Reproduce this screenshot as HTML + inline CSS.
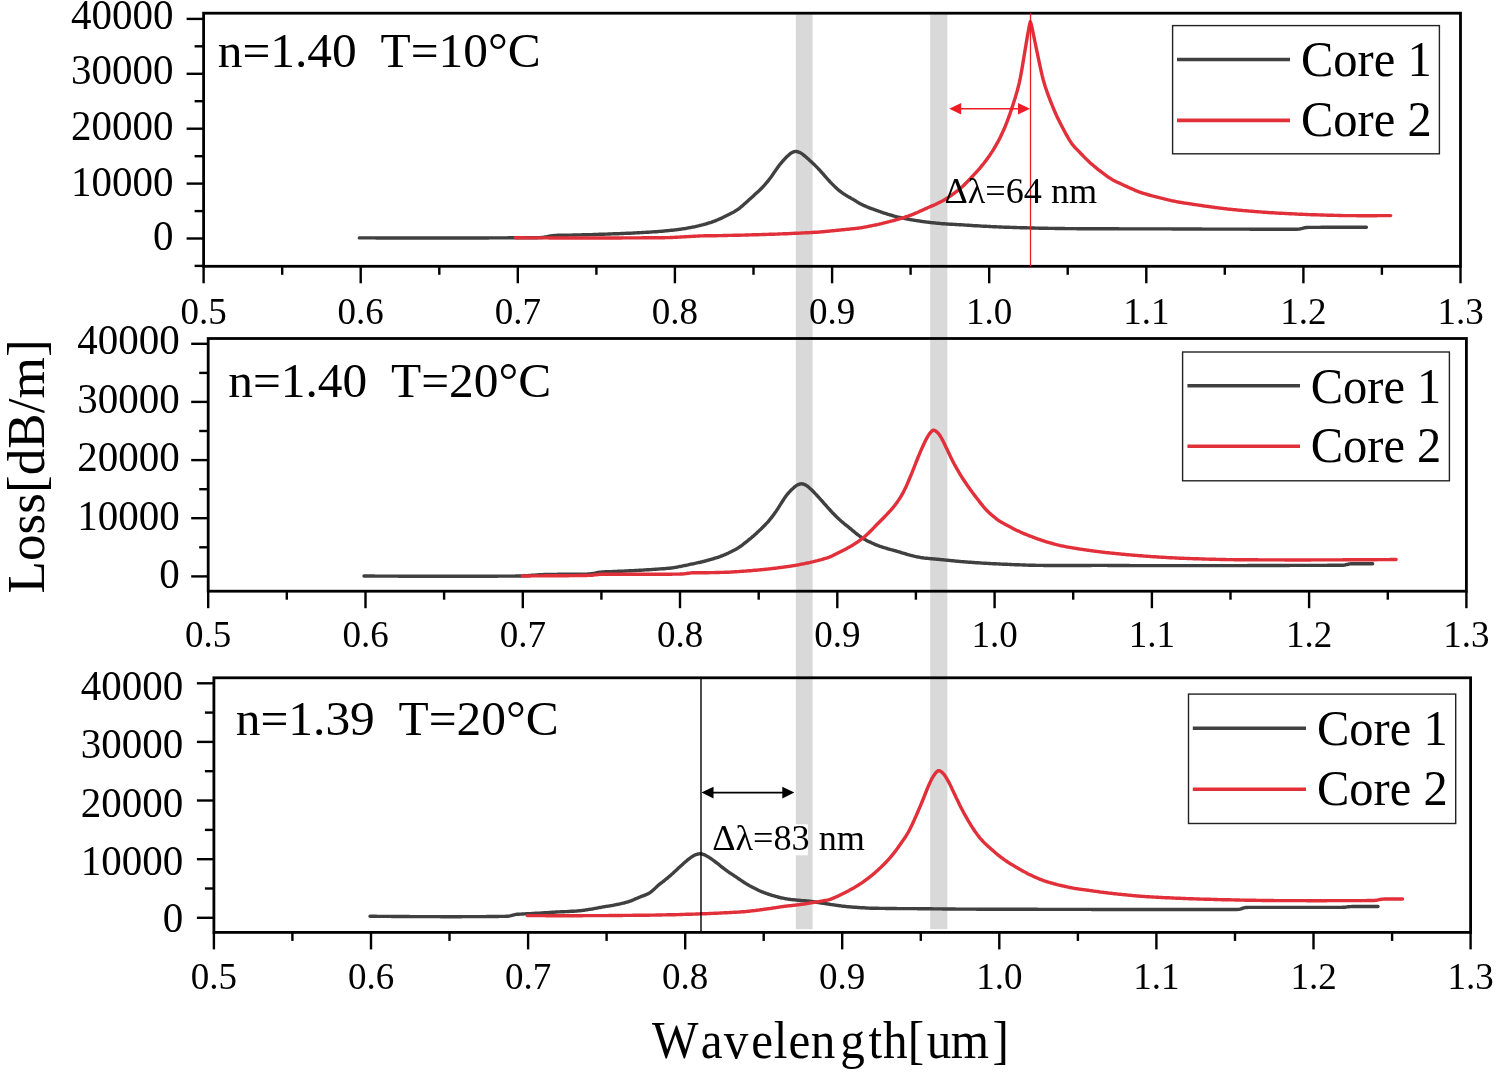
<!DOCTYPE html>
<html><head><meta charset="utf-8"><title>Loss vs Wavelength</title><style>html,body{margin:0;padding:0;background:#fff;overflow:hidden}svg{display:block}</style></head><body>
<svg width="1500" height="1073" viewBox="0 0 1500 1073" font-family='"Liberation Serif", "Times New Roman", serif'>
<rect x="0" y="0" width="1500" height="1073" fill="#fff"/>
<rect x="795.8" y="14.5" width="16.8" height="914.7" fill="#d9d9d9"/>
<rect x="930.2" y="14.5" width="17.2" height="914.7" fill="#d9d9d9"/>
<text x="217.7" y="67.3" font-size="49.4" xml:space="preserve" fill="#000">n=1.40  T=10°C</text>
<path d="M359.3,237.9 L360.3,237.9 L361.3,237.9 L362.3,237.9 L363.3,237.9 L364.3,237.9 L365.3,237.9 L366.3,237.9 L367.3,237.9 L368.3,237.9 L369.3,237.9 L370.3,237.9 L371.3,237.9 L372.3,237.9 L373.3,237.9 L374.3,237.9 L375.3,237.9 L376.3,238.0 L377.3,238.0 L378.3,238.0 L379.3,238.0 L380.3,238.0 L381.3,238.0 L382.3,238.0 L383.3,238.0 L384.3,238.0 L385.3,238.0 L386.3,238.0 L387.3,238.0 L388.3,238.0 L389.3,238.0 L390.3,238.0 L391.3,238.0 L392.3,238.0 L393.3,238.0 L394.3,238.0 L395.3,238.0 L396.3,238.0 L397.3,238.0 L398.3,238.0 L399.3,238.0 L400.3,238.0 L401.3,238.0 L402.3,238.0 L403.3,238.0 L404.3,238.0 L405.3,238.0 L406.3,238.0 L407.3,238.0 L408.3,238.0 L409.3,238.0 L410.3,238.0 L411.3,238.0 L412.3,238.0 L413.3,238.0 L414.3,238.0 L415.3,238.0 L416.3,238.0 L417.3,238.0 L418.3,238.0 L419.3,238.0 L420.3,238.0 L421.3,238.0 L422.3,238.0 L423.3,238.0 L424.3,238.0 L425.3,238.0 L426.3,238.0 L427.3,238.0 L428.3,238.0 L429.3,238.0 L430.3,238.0 L431.3,238.0 L432.3,238.0 L433.3,238.0 L434.3,238.0 L435.3,238.0 L436.3,238.0 L437.3,238.0 L438.3,238.0 L439.3,238.0 L440.3,238.0 L441.3,238.0 L442.3,238.0 L443.3,238.0 L444.3,238.0 L445.3,238.0 L446.3,238.0 L447.3,238.0 L448.3,238.0 L449.3,238.0 L450.3,238.0 L451.3,238.0 L452.3,238.0 L453.3,238.0 L454.3,238.0 L455.3,238.0 L456.3,238.0 L457.3,238.0 L458.3,238.0 L459.3,238.0 L460.3,238.0 L461.3,238.0 L462.3,238.0 L463.3,238.0 L464.3,238.0 L465.3,238.0 L466.3,238.0 L467.3,238.0 L468.3,238.0 L469.3,238.0 L470.3,238.0 L471.3,238.0 L472.3,238.0 L473.3,238.0 L474.3,238.0 L475.3,238.0 L476.3,238.0 L477.3,238.0 L478.3,238.0 L479.3,238.0 L480.3,238.0 L481.3,238.0 L482.3,238.0 L483.3,238.0 L484.3,238.0 L485.3,238.0 L486.3,238.0 L487.3,238.0 L488.3,238.0 L489.3,237.9 L490.3,237.9 L491.3,237.9 L492.3,237.9 L493.3,237.9 L494.3,237.9 L495.3,237.9 L496.3,237.9 L497.3,237.9 L498.3,237.9 L499.3,237.9 L500.3,237.9 L501.3,237.9 L502.3,237.9 L503.3,237.9 L504.3,237.9 L505.3,237.9 L506.3,237.9 L507.3,237.9 L508.3,237.8 L509.3,237.8 L510.3,237.8 L511.3,237.8 L512.3,237.8 L513.3,237.8 L514.3,237.8 L515.3,237.8 L516.3,237.8 L517.3,237.8 L518.3,237.8 L519.3,237.8 L520.3,237.8 L521.3,237.8 L522.3,237.8 L523.3,237.8 L524.3,237.7 L525.3,237.7 L526.3,237.7 L527.3,237.7 L528.3,237.7 L529.3,237.7 L530.3,237.7 L531.3,237.7 L532.3,237.7 L533.3,237.7 L534.3,237.7 L535.3,237.7 L536.3,237.7 L537.3,237.7 L538.3,237.6 L539.3,237.6 L540.3,237.6 L541.3,237.5 L542.3,237.5 L543.3,237.4 L544.3,237.2 L545.3,237.0 L546.3,236.9 L547.3,236.6 L548.3,236.4 L549.3,236.2 L550.3,236.0 L551.3,235.9 L552.3,235.7 L553.3,235.6 L554.3,235.5 L555.3,235.4 L556.3,235.4 L557.3,235.3 L558.3,235.3 L559.3,235.3 L560.3,235.3 L561.3,235.3 L562.3,235.2 L563.3,235.2 L564.3,235.2 L565.3,235.2 L566.3,235.2 L567.3,235.2 L568.3,235.1 L569.3,235.1 L570.3,235.1 L571.3,235.1 L572.3,235.1 L573.3,235.0 L574.3,235.0 L575.3,235.0 L576.3,235.0 L577.3,234.9 L578.3,234.9 L579.3,234.9 L580.3,234.9 L581.3,234.9 L582.3,234.8 L583.3,234.8 L584.3,234.8 L585.3,234.8 L586.3,234.7 L587.3,234.7 L588.3,234.7 L589.3,234.6 L590.3,234.6 L591.3,234.6 L592.3,234.6 L593.3,234.5 L594.3,234.5 L595.3,234.5 L596.3,234.4 L597.3,234.4 L598.3,234.4 L599.3,234.3 L600.3,234.3 L601.3,234.3 L602.3,234.2 L603.3,234.2 L604.3,234.2 L605.3,234.1 L606.3,234.1 L607.3,234.1 L608.3,234.0 L609.3,234.0 L610.3,234.0 L611.3,233.9 L612.3,233.9 L613.3,233.8 L614.3,233.8 L615.3,233.8 L616.3,233.7 L617.3,233.7 L618.3,233.7 L619.3,233.6 L620.3,233.6 L621.3,233.5 L622.3,233.5 L623.3,233.5 L624.3,233.4 L625.3,233.4 L626.3,233.3 L627.3,233.3 L628.3,233.3 L629.3,233.2 L630.3,233.2 L631.3,233.1 L632.3,233.1 L633.3,233.0 L634.3,233.0 L635.3,232.9 L636.3,232.9 L637.3,232.8 L638.3,232.8 L639.3,232.7 L640.3,232.6 L641.3,232.6 L642.3,232.5 L643.3,232.5 L644.3,232.4 L645.3,232.4 L646.3,232.3 L647.3,232.3 L648.3,232.2 L649.3,232.1 L650.3,232.1 L651.3,232.0 L652.3,231.9 L653.3,231.9 L654.3,231.8 L655.3,231.7 L656.3,231.7 L657.3,231.6 L658.3,231.5 L659.3,231.4 L660.3,231.4 L661.3,231.3 L662.3,231.2 L663.3,231.1 L664.3,231.0 L665.3,230.9 L666.3,230.8 L667.3,230.7 L668.3,230.6 L669.3,230.5 L670.3,230.4 L671.3,230.3 L672.3,230.2 L673.3,230.1 L674.3,230.0 L675.3,229.9 L676.3,229.8 L677.3,229.6 L678.3,229.5 L679.3,229.4 L680.3,229.2 L681.3,229.1 L682.3,228.9 L683.3,228.8 L684.3,228.6 L685.3,228.5 L686.3,228.3 L687.3,228.1 L688.3,227.9 L689.3,227.7 L690.3,227.6 L691.3,227.4 L692.3,227.2 L693.3,227.0 L694.3,226.8 L695.3,226.6 L696.3,226.3 L697.3,226.1 L698.3,225.9 L699.3,225.7 L700.3,225.4 L701.3,225.2 L702.3,224.9 L703.3,224.7 L704.3,224.4 L705.3,224.1 L706.3,223.8 L707.3,223.5 L708.3,223.2 L709.3,222.9 L710.3,222.6 L711.3,222.3 L712.3,221.9 L713.3,221.5 L714.3,221.2 L715.3,220.8 L716.3,220.4 L717.3,220.0 L718.3,219.5 L719.3,219.1 L720.3,218.7 L721.3,218.2 L722.3,217.8 L723.3,217.3 L724.3,216.8 L725.3,216.3 L726.3,215.8 L727.3,215.3 L728.3,214.8 L729.3,214.3 L730.3,213.7 L731.3,213.2 L732.3,212.7 L733.3,212.2 L734.3,211.6 L735.3,211.0 L736.3,210.4 L737.3,209.8 L738.3,209.1 L739.3,208.4 L740.3,207.6 L741.3,206.7 L742.3,205.9 L743.3,205.0 L744.3,204.1 L745.3,203.2 L746.3,202.3 L747.3,201.4 L748.3,200.5 L749.3,199.6 L750.3,198.7 L751.3,197.8 L752.3,196.9 L753.3,196.0 L754.3,195.0 L755.3,194.1 L756.3,193.2 L757.3,192.3 L758.3,191.4 L759.3,190.5 L760.3,189.5 L761.3,188.5 L762.3,187.5 L763.3,186.4 L764.3,185.3 L765.3,184.2 L766.3,183.0 L767.3,181.8 L768.3,180.6 L769.3,179.3 L770.3,178.0 L771.3,176.7 L772.3,175.2 L773.3,173.8 L774.3,172.3 L775.3,170.9 L776.3,169.4 L777.3,168.0 L778.3,166.6 L779.3,165.3 L780.3,164.0 L781.3,162.8 L782.3,161.6 L783.3,160.5 L784.3,159.4 L785.3,158.3 L786.3,157.3 L787.3,156.3 L788.3,155.4 L789.3,154.5 L790.3,153.7 L791.3,153.0 L792.3,152.4 L793.3,151.9 L794.3,151.6 L795.3,151.5 L796.3,151.5 L797.3,151.7 L798.3,152.0 L799.3,152.3 L800.3,152.8 L801.3,153.4 L802.3,154.0 L803.3,154.8 L804.3,155.6 L805.3,156.4 L806.3,157.3 L807.3,158.2 L808.3,159.1 L809.3,160.0 L810.3,160.9 L811.3,161.8 L812.3,162.8 L813.3,163.7 L814.3,164.6 L815.3,165.6 L816.3,166.6 L817.3,167.6 L818.3,168.7 L819.3,169.7 L820.3,170.8 L821.3,172.0 L822.3,173.1 L823.3,174.2 L824.3,175.4 L825.3,176.5 L826.3,177.7 L827.3,178.8 L828.3,179.9 L829.3,181.0 L830.3,182.1 L831.3,183.1 L832.3,184.1 L833.3,185.1 L834.3,186.1 L835.3,187.1 L836.3,188.0 L837.3,188.9 L838.3,189.8 L839.3,190.6 L840.3,191.4 L841.3,192.2 L842.3,192.9 L843.3,193.6 L844.3,194.2 L845.3,194.9 L846.3,195.5 L847.3,196.1 L848.3,196.7 L849.3,197.2 L850.3,197.8 L851.3,198.4 L852.3,198.9 L853.3,199.5 L854.3,200.1 L855.3,200.7 L856.3,201.4 L857.3,202.0 L858.3,202.6 L859.3,203.2 L860.3,203.8 L861.3,204.3 L862.3,204.8 L863.3,205.3 L864.3,205.7 L865.3,206.1 L866.3,206.6 L867.3,207.0 L868.3,207.4 L869.3,207.8 L870.3,208.2 L871.3,208.5 L872.3,208.9 L873.3,209.2 L874.3,209.6 L875.3,209.9 L876.3,210.3 L877.3,210.6 L878.3,211.0 L879.3,211.4 L880.3,211.7 L881.3,212.1 L882.3,212.4 L883.3,212.8 L884.3,213.1 L885.3,213.4 L886.3,213.7 L887.3,214.1 L888.3,214.4 L889.3,214.7 L890.3,215.0 L891.3,215.2 L892.3,215.5 L893.3,215.8 L894.3,216.1 L895.3,216.3 L896.3,216.6 L897.3,216.8 L898.3,217.1 L899.3,217.3 L900.3,217.5 L901.3,217.8 L902.3,218.0 L903.3,218.2 L904.3,218.4 L905.3,218.6 L906.3,218.8 L907.3,219.0 L908.3,219.2 L909.3,219.4 L910.3,219.6 L911.3,219.8 L912.3,219.9 L913.3,220.1 L914.3,220.3 L915.3,220.4 L916.3,220.6 L917.3,220.7 L918.3,220.9 L919.3,221.0 L920.3,221.2 L921.3,221.3 L922.3,221.5 L923.3,221.6 L924.3,221.7 L925.3,221.9 L926.3,222.0 L927.3,222.1 L928.3,222.2 L929.3,222.3 L930.3,222.5 L931.3,222.6 L932.3,222.7 L933.3,222.8 L934.3,222.9 L935.3,223.0 L936.3,223.1 L937.3,223.2 L938.3,223.3 L939.3,223.4 L940.3,223.5 L941.3,223.6 L942.3,223.7 L943.3,223.7 L944.3,223.8 L945.3,223.9 L946.3,224.0 L947.3,224.0 L948.3,224.1 L949.3,224.1 L950.3,224.2 L951.3,224.3 L952.3,224.3 L953.3,224.4 L954.3,224.4 L955.3,224.5 L956.3,224.5 L957.3,224.6 L958.3,224.6 L959.3,224.7 L960.3,224.7 L961.3,224.8 L962.3,224.9 L963.3,224.9 L964.3,225.0 L965.3,225.1 L966.3,225.1 L967.3,225.2 L968.3,225.3 L969.3,225.3 L970.3,225.4 L971.3,225.5 L972.3,225.5 L973.3,225.6 L974.3,225.7 L975.3,225.7 L976.3,225.8 L977.3,225.8 L978.3,225.9 L979.3,225.9 L980.3,226.0 L981.3,226.1 L982.3,226.1 L983.3,226.2 L984.3,226.2 L985.3,226.3 L986.3,226.3 L987.3,226.4 L988.3,226.4 L989.3,226.5 L990.3,226.5 L991.3,226.6 L992.3,226.6 L993.3,226.7 L994.3,226.7 L995.3,226.8 L996.3,226.8 L997.3,226.9 L998.3,226.9 L999.3,227.0 L1000.3,227.0 L1001.3,227.0 L1002.3,227.1 L1003.3,227.1 L1004.3,227.2 L1005.3,227.2 L1006.3,227.2 L1007.3,227.3 L1008.3,227.3 L1009.3,227.3 L1010.3,227.4 L1011.3,227.4 L1012.3,227.4 L1013.3,227.5 L1014.3,227.5 L1015.3,227.5 L1016.3,227.5 L1017.3,227.6 L1018.3,227.6 L1019.3,227.6 L1020.3,227.7 L1021.3,227.7 L1022.3,227.7 L1023.3,227.7 L1024.3,227.8 L1025.3,227.8 L1026.3,227.8 L1027.3,227.9 L1028.3,227.9 L1029.3,227.9 L1030.3,227.9 L1031.3,228.0 L1032.3,228.0 L1033.3,228.0 L1034.3,228.0 L1035.3,228.1 L1036.3,228.1 L1037.3,228.1 L1038.3,228.1 L1039.3,228.2 L1040.3,228.2 L1041.3,228.2 L1042.3,228.2 L1043.3,228.3 L1044.3,228.3 L1045.3,228.3 L1046.3,228.3 L1047.3,228.3 L1048.3,228.4 L1049.3,228.4 L1050.3,228.4 L1051.3,228.4 L1052.3,228.4 L1053.3,228.4 L1054.3,228.4 L1055.3,228.5 L1056.3,228.5 L1057.3,228.5 L1058.3,228.5 L1059.3,228.5 L1060.3,228.5 L1061.3,228.5 L1062.3,228.5 L1063.3,228.5 L1064.3,228.5 L1065.3,228.6 L1066.3,228.6 L1067.3,228.6 L1068.3,228.6 L1069.3,228.6 L1070.3,228.6 L1071.3,228.6 L1072.3,228.6 L1073.3,228.6 L1074.3,228.6 L1075.3,228.6 L1076.3,228.6 L1077.3,228.7 L1078.3,228.7 L1079.3,228.7 L1080.3,228.7 L1081.3,228.7 L1082.3,228.7 L1083.3,228.7 L1084.3,228.7 L1085.3,228.7 L1086.3,228.7 L1087.3,228.7 L1088.3,228.7 L1089.3,228.7 L1090.3,228.7 L1091.3,228.7 L1092.3,228.7 L1093.3,228.8 L1094.3,228.8 L1095.3,228.8 L1096.3,228.8 L1097.3,228.8 L1098.3,228.8 L1099.3,228.8 L1100.3,228.8 L1101.3,228.8 L1102.3,228.8 L1103.3,228.8 L1104.3,228.8 L1105.3,228.8 L1106.3,228.8 L1107.3,228.8 L1108.3,228.8 L1109.3,228.8 L1110.3,228.8 L1111.3,228.8 L1112.3,228.8 L1113.3,228.8 L1114.3,228.8 L1115.3,228.8 L1116.3,228.8 L1117.3,228.8 L1118.3,228.8 L1119.3,228.9 L1120.3,228.9 L1121.3,228.9 L1122.3,228.9 L1123.3,228.9 L1124.3,228.9 L1125.3,228.9 L1126.3,228.9 L1127.3,228.9 L1128.3,228.9 L1129.3,228.9 L1130.3,228.9 L1131.3,228.9 L1132.3,228.9 L1133.3,228.9 L1134.3,228.9 L1135.3,228.9 L1136.3,228.9 L1137.3,228.9 L1138.3,228.9 L1139.3,228.9 L1140.3,228.9 L1141.3,228.9 L1142.3,228.9 L1143.3,228.9 L1144.3,228.9 L1145.3,228.9 L1146.3,228.9 L1147.3,228.9 L1148.3,228.9 L1149.3,228.9 L1150.3,228.9 L1151.3,228.9 L1152.3,228.9 L1153.3,228.9 L1154.3,228.9 L1155.3,228.9 L1156.3,228.9 L1157.3,228.9 L1158.3,228.9 L1159.3,228.9 L1160.3,228.9 L1161.3,228.9 L1162.3,228.9 L1163.3,228.9 L1164.3,228.9 L1165.3,228.9 L1166.3,228.9 L1167.3,228.9 L1168.3,228.9 L1169.3,228.9 L1170.3,228.9 L1171.3,228.9 L1172.3,229.0 L1173.3,229.0 L1174.3,229.0 L1175.3,229.0 L1176.3,229.0 L1177.3,229.0 L1178.3,229.0 L1179.3,229.0 L1180.3,229.0 L1181.3,229.0 L1182.3,229.0 L1183.3,229.0 L1184.3,229.0 L1185.3,229.0 L1186.3,229.0 L1187.3,229.0 L1188.3,229.0 L1189.3,229.0 L1190.3,229.0 L1191.3,229.0 L1192.3,229.0 L1193.3,229.0 L1194.3,229.0 L1195.3,229.0 L1196.3,229.0 L1197.3,229.0 L1198.3,229.0 L1199.3,229.0 L1200.3,229.0 L1201.3,229.0 L1202.3,229.1 L1203.3,229.1 L1204.3,229.1 L1205.3,229.1 L1206.3,229.1 L1207.3,229.1 L1208.3,229.1 L1209.3,229.1 L1210.3,229.1 L1211.3,229.1 L1212.3,229.1 L1213.3,229.1 L1214.3,229.1 L1215.3,229.1 L1216.3,229.1 L1217.3,229.1 L1218.3,229.1 L1219.3,229.1 L1220.3,229.1 L1221.3,229.1 L1222.3,229.1 L1223.3,229.1 L1224.3,229.1 L1225.3,229.1 L1226.3,229.1 L1227.3,229.1 L1228.3,229.1 L1229.3,229.1 L1230.3,229.1 L1231.3,229.1 L1232.3,229.1 L1233.3,229.1 L1234.3,229.1 L1235.3,229.1 L1236.3,229.1 L1237.3,229.1 L1238.3,229.1 L1239.3,229.1 L1240.3,229.1 L1241.3,229.1 L1242.3,229.1 L1243.3,229.1 L1244.3,229.1 L1245.3,229.1 L1246.3,229.1 L1247.3,229.1 L1248.3,229.1 L1249.3,229.1 L1250.3,229.2 L1251.3,229.2 L1252.3,229.2 L1253.3,229.2 L1254.3,229.2 L1255.3,229.2 L1256.3,229.2 L1257.3,229.2 L1258.3,229.2 L1259.3,229.2 L1260.3,229.2 L1261.3,229.2 L1262.3,229.2 L1263.3,229.2 L1264.3,229.2 L1265.3,229.2 L1266.3,229.2 L1267.3,229.2 L1268.3,229.2 L1269.3,229.2 L1270.3,229.2 L1271.3,229.2 L1272.3,229.2 L1273.3,229.2 L1274.3,229.2 L1275.3,229.2 L1276.3,229.2 L1277.3,229.2 L1278.3,229.2 L1279.3,229.2 L1280.3,229.2 L1281.3,229.2 L1282.3,229.2 L1283.3,229.2 L1284.3,229.2 L1285.3,229.2 L1286.3,229.2 L1287.3,229.2 L1288.3,229.2 L1289.3,229.2 L1290.3,229.2 L1291.3,229.2 L1292.3,229.2 L1293.3,229.2 L1294.3,229.2 L1295.3,229.2 L1296.3,229.2 L1297.3,229.2 L1298.3,229.1 L1299.3,229.0 L1300.3,228.8 L1301.3,228.6 L1302.3,228.4 L1303.3,228.1 L1304.3,227.8 L1305.3,227.7 L1306.3,227.5 L1307.3,227.5 L1308.3,227.4 L1309.3,227.4 L1310.3,227.4 L1311.3,227.4 L1312.3,227.4 L1313.3,227.4 L1314.3,227.4 L1315.3,227.4 L1316.3,227.4 L1317.3,227.4 L1318.3,227.4 L1319.3,227.4 L1320.3,227.4 L1321.3,227.3 L1322.3,227.3 L1323.3,227.3 L1324.3,227.3 L1325.3,227.3 L1326.3,227.3 L1327.3,227.3 L1328.3,227.3 L1329.3,227.3 L1330.3,227.3 L1331.3,227.3 L1332.3,227.3 L1333.3,227.3 L1334.3,227.3 L1335.3,227.3 L1336.3,227.3 L1337.3,227.3 L1338.3,227.3 L1339.3,227.3 L1340.3,227.3 L1341.3,227.3 L1342.3,227.3 L1343.3,227.3 L1344.3,227.3 L1345.3,227.3 L1346.3,227.3 L1347.3,227.3 L1348.3,227.3 L1349.3,227.3 L1350.3,227.3 L1351.3,227.3 L1352.3,227.2 L1353.3,227.2 L1354.3,227.2 L1355.3,227.2 L1356.3,227.2 L1357.3,227.2 L1358.3,227.2 L1359.3,227.2 L1360.3,227.2 L1361.3,227.2 L1362.3,227.2 L1363.3,227.2 L1364.3,227.2 L1365.3,227.2 L1366.3,227.2 L1366.4,227.2" fill="none" stroke="#404040" stroke-width="3.4" stroke-linejoin="round" stroke-linecap="round"/>
<path d="M515.3,237.8 L516.3,237.8 L517.3,237.8 L518.3,237.8 L519.3,237.8 L520.3,237.8 L521.3,237.8 L522.3,237.8 L523.3,237.8 L524.3,237.8 L525.3,237.9 L526.3,237.9 L527.3,237.9 L528.3,237.9 L529.3,237.9 L530.3,237.9 L531.3,237.9 L532.3,237.9 L533.3,237.9 L534.3,237.9 L535.3,237.9 L536.3,237.9 L537.3,237.9 L538.3,237.9 L539.3,237.9 L540.3,237.9 L541.3,237.9 L542.3,237.9 L543.3,237.9 L544.3,237.9 L545.3,237.9 L546.3,237.9 L547.3,237.9 L548.3,237.9 L549.3,238.0 L550.3,238.0 L551.3,238.0 L552.3,238.0 L553.3,238.0 L554.3,238.0 L555.3,238.0 L556.3,238.0 L557.3,238.0 L558.3,238.0 L559.3,238.0 L560.3,238.0 L561.3,238.0 L562.3,238.0 L563.3,238.0 L564.3,238.0 L565.3,238.0 L566.3,238.0 L567.3,238.0 L568.3,238.0 L569.3,238.0 L570.3,238.0 L571.3,238.0 L572.3,238.0 L573.3,238.0 L574.3,238.0 L575.3,238.0 L576.3,238.0 L577.3,238.0 L578.3,238.0 L579.3,238.0 L580.3,238.0 L581.3,238.0 L582.3,238.0 L583.3,238.0 L584.3,238.0 L585.3,238.0 L586.3,238.0 L587.3,238.0 L588.3,238.0 L589.3,238.0 L590.3,238.0 L591.3,238.0 L592.3,238.0 L593.3,238.0 L594.3,238.0 L595.3,238.0 L596.3,238.0 L597.3,238.0 L598.3,238.0 L599.3,238.0 L600.3,238.0 L601.3,238.0 L602.3,238.0 L603.3,238.0 L604.3,238.0 L605.3,238.0 L606.3,238.0 L607.3,238.0 L608.3,238.0 L609.3,238.0 L610.3,238.0 L611.3,238.0 L612.3,238.0 L613.3,238.0 L614.3,238.0 L615.3,238.0 L616.3,238.0 L617.3,238.0 L618.3,238.0 L619.3,238.0 L620.3,238.0 L621.3,238.0 L622.3,237.9 L623.3,237.9 L624.3,237.9 L625.3,237.9 L626.3,237.9 L627.3,237.9 L628.3,237.9 L629.3,237.9 L630.3,237.9 L631.3,237.9 L632.3,237.9 L633.3,237.9 L634.3,237.9 L635.3,237.9 L636.3,237.9 L637.3,237.9 L638.3,237.9 L639.3,237.9 L640.3,237.9 L641.3,237.9 L642.3,237.8 L643.3,237.8 L644.3,237.8 L645.3,237.8 L646.3,237.8 L647.3,237.8 L648.3,237.8 L649.3,237.8 L650.3,237.8 L651.3,237.8 L652.3,237.8 L653.3,237.8 L654.3,237.8 L655.3,237.7 L656.3,237.7 L657.3,237.7 L658.3,237.7 L659.3,237.7 L660.3,237.7 L661.3,237.7 L662.3,237.7 L663.3,237.7 L664.3,237.7 L665.3,237.6 L666.3,237.6 L667.3,237.6 L668.3,237.6 L669.3,237.6 L670.3,237.5 L671.3,237.5 L672.3,237.5 L673.3,237.4 L674.3,237.4 L675.3,237.3 L676.3,237.3 L677.3,237.2 L678.3,237.1 L679.3,237.1 L680.3,237.0 L681.3,237.0 L682.3,236.9 L683.3,236.9 L684.3,236.8 L685.3,236.8 L686.3,236.7 L687.3,236.6 L688.3,236.6 L689.3,236.5 L690.3,236.5 L691.3,236.4 L692.3,236.4 L693.3,236.3 L694.3,236.2 L695.3,236.2 L696.3,236.1 L697.3,236.1 L698.3,236.0 L699.3,236.0 L700.3,235.9 L701.3,235.9 L702.3,235.9 L703.3,235.9 L704.3,235.8 L705.3,235.8 L706.3,235.8 L707.3,235.8 L708.3,235.8 L709.3,235.8 L710.3,235.8 L711.3,235.7 L712.3,235.7 L713.3,235.7 L714.3,235.7 L715.3,235.7 L716.3,235.7 L717.3,235.6 L718.3,235.6 L719.3,235.6 L720.3,235.6 L721.3,235.6 L722.3,235.6 L723.3,235.5 L724.3,235.5 L725.3,235.5 L726.3,235.5 L727.3,235.5 L728.3,235.4 L729.3,235.4 L730.3,235.4 L731.3,235.4 L732.3,235.4 L733.3,235.3 L734.3,235.3 L735.3,235.3 L736.3,235.3 L737.3,235.2 L738.3,235.2 L739.3,235.2 L740.3,235.2 L741.3,235.1 L742.3,235.1 L743.3,235.1 L744.3,235.1 L745.3,235.0 L746.3,235.0 L747.3,235.0 L748.3,235.0 L749.3,234.9 L750.3,234.9 L751.3,234.9 L752.3,234.8 L753.3,234.8 L754.3,234.8 L755.3,234.8 L756.3,234.7 L757.3,234.7 L758.3,234.7 L759.3,234.6 L760.3,234.6 L761.3,234.6 L762.3,234.5 L763.3,234.5 L764.3,234.5 L765.3,234.5 L766.3,234.4 L767.3,234.4 L768.3,234.4 L769.3,234.3 L770.3,234.3 L771.3,234.3 L772.3,234.2 L773.3,234.2 L774.3,234.2 L775.3,234.1 L776.3,234.1 L777.3,234.1 L778.3,234.0 L779.3,234.0 L780.3,233.9 L781.3,233.9 L782.3,233.9 L783.3,233.8 L784.3,233.8 L785.3,233.7 L786.3,233.7 L787.3,233.7 L788.3,233.6 L789.3,233.6 L790.3,233.5 L791.3,233.5 L792.3,233.4 L793.3,233.4 L794.3,233.3 L795.3,233.3 L796.3,233.2 L797.3,233.2 L798.3,233.2 L799.3,233.1 L800.3,233.1 L801.3,233.0 L802.3,233.0 L803.3,232.9 L804.3,232.9 L805.3,232.8 L806.3,232.8 L807.3,232.7 L808.3,232.7 L809.3,232.6 L810.3,232.6 L811.3,232.5 L812.3,232.5 L813.3,232.4 L814.3,232.3 L815.3,232.3 L816.3,232.2 L817.3,232.2 L818.3,232.1 L819.3,232.0 L820.3,232.0 L821.3,231.9 L822.3,231.8 L823.3,231.7 L824.3,231.6 L825.3,231.5 L826.3,231.4 L827.3,231.3 L828.3,231.2 L829.3,231.1 L830.3,231.0 L831.3,230.9 L832.3,230.8 L833.3,230.7 L834.3,230.6 L835.3,230.5 L836.3,230.4 L837.3,230.3 L838.3,230.2 L839.3,230.1 L840.3,230.0 L841.3,229.9 L842.3,229.8 L843.3,229.7 L844.3,229.6 L845.3,229.5 L846.3,229.4 L847.3,229.3 L848.3,229.2 L849.3,229.1 L850.3,229.0 L851.3,228.9 L852.3,228.8 L853.3,228.7 L854.3,228.6 L855.3,228.5 L856.3,228.4 L857.3,228.3 L858.3,228.2 L859.3,228.0 L860.3,227.9 L861.3,227.7 L862.3,227.6 L863.3,227.4 L864.3,227.2 L865.3,227.0 L866.3,226.8 L867.3,226.6 L868.3,226.4 L869.3,226.2 L870.3,226.0 L871.3,225.8 L872.3,225.6 L873.3,225.4 L874.3,225.2 L875.3,225.0 L876.3,224.8 L877.3,224.6 L878.3,224.4 L879.3,224.1 L880.3,223.9 L881.3,223.7 L882.3,223.4 L883.3,223.2 L884.3,222.9 L885.3,222.7 L886.3,222.4 L887.3,222.2 L888.3,221.9 L889.3,221.7 L890.3,221.4 L891.3,221.1 L892.3,220.9 L893.3,220.6 L894.3,220.3 L895.3,220.0 L896.3,219.7 L897.3,219.5 L898.3,219.2 L899.3,218.9 L900.3,218.6 L901.3,218.3 L902.3,218.0 L903.3,217.7 L904.3,217.4 L905.3,217.0 L906.3,216.7 L907.3,216.4 L908.3,216.1 L909.3,215.7 L910.3,215.3 L911.3,215.0 L912.3,214.6 L913.3,214.2 L914.3,213.7 L915.3,213.3 L916.3,212.9 L917.3,212.5 L918.3,212.0 L919.3,211.6 L920.3,211.1 L921.3,210.7 L922.3,210.2 L923.3,209.7 L924.3,209.3 L925.3,208.8 L926.3,208.4 L927.3,207.9 L928.3,207.5 L929.3,207.1 L930.3,206.6 L931.3,206.2 L932.3,205.8 L933.3,205.4 L934.3,204.9 L935.3,204.5 L936.3,204.0 L937.3,203.6 L938.3,203.1 L939.3,202.6 L940.3,202.1 L941.3,201.6 L942.3,201.1 L943.3,200.5 L944.3,199.9 L945.3,199.3 L946.3,198.7 L947.3,198.0 L948.3,197.4 L949.3,196.7 L950.3,196.0 L951.3,195.3 L952.3,194.6 L953.3,193.9 L954.3,193.1 L955.3,192.4 L956.3,191.6 L957.3,190.9 L958.3,190.1 L959.3,189.3 L960.3,188.5 L961.3,187.6 L962.3,186.7 L963.3,185.8 L964.3,184.8 L965.3,183.8 L966.3,182.8 L967.3,181.8 L968.3,180.7 L969.3,179.7 L970.3,178.6 L971.3,177.5 L972.3,176.5 L973.3,175.4 L974.3,174.3 L975.3,173.3 L976.3,172.2 L977.3,171.1 L978.3,169.9 L979.3,168.8 L980.3,167.6 L981.3,166.4 L982.3,165.2 L983.3,164.0 L984.3,162.7 L985.3,161.4 L986.3,160.1 L987.3,158.7 L988.3,157.3 L989.3,155.9 L990.3,154.4 L991.3,152.9 L992.3,151.4 L993.3,149.8 L994.3,148.1 L995.3,146.5 L996.3,144.7 L997.3,142.9 L998.3,141.1 L999.3,139.2 L1000.3,137.2 L1001.3,135.1 L1002.3,133.0 L1003.3,130.8 L1004.3,128.5 L1005.3,126.2 L1006.3,123.7 L1007.3,121.1 L1008.3,118.4 L1009.3,115.7 L1010.3,112.8 L1011.3,109.9 L1012.3,106.9 L1013.3,103.8 L1014.3,100.6 L1015.3,97.4 L1016.3,94.1 L1017.3,90.6 L1018.3,86.8 L1019.3,82.6 L1020.3,77.9 L1021.3,72.6 L1022.3,66.9 L1023.3,60.9 L1024.3,54.8 L1025.3,48.7 L1026.3,42.7 L1027.3,36.9 L1028.3,31.2 L1029.3,26.0 L1030.3,21.7 L1031.3,24.6 L1032.3,29.0 L1033.3,33.8 L1034.3,38.7 L1035.3,43.5 L1036.3,48.4 L1037.3,53.2 L1038.3,57.9 L1039.3,62.7 L1040.3,67.3 L1041.3,71.8 L1042.3,76.1 L1043.3,80.0 L1044.3,83.5 L1045.3,86.8 L1046.3,89.8 L1047.3,92.6 L1048.3,95.4 L1049.3,98.0 L1050.3,100.6 L1051.3,103.2 L1052.3,105.7 L1053.3,108.1 L1054.3,110.5 L1055.3,112.8 L1056.3,115.0 L1057.3,117.2 L1058.3,119.3 L1059.3,121.3 L1060.3,123.3 L1061.3,125.2 L1062.3,127.1 L1063.3,129.0 L1064.3,130.9 L1065.3,132.8 L1066.3,134.6 L1067.3,136.4 L1068.3,138.2 L1069.3,139.9 L1070.3,141.4 L1071.3,142.9 L1072.3,144.3 L1073.3,145.5 L1074.3,146.7 L1075.3,147.8 L1076.3,148.9 L1077.3,149.9 L1078.3,150.9 L1079.3,151.9 L1080.3,153.0 L1081.3,154.0 L1082.3,155.0 L1083.3,156.1 L1084.3,157.1 L1085.3,158.1 L1086.3,159.1 L1087.3,160.1 L1088.3,161.0 L1089.3,162.0 L1090.3,162.9 L1091.3,163.8 L1092.3,164.6 L1093.3,165.5 L1094.3,166.3 L1095.3,167.2 L1096.3,168.0 L1097.3,168.8 L1098.3,169.6 L1099.3,170.3 L1100.3,171.1 L1101.3,171.9 L1102.3,172.6 L1103.3,173.4 L1104.3,174.1 L1105.3,174.9 L1106.3,175.6 L1107.3,176.4 L1108.3,177.1 L1109.3,177.8 L1110.3,178.4 L1111.3,179.0 L1112.3,179.6 L1113.3,180.2 L1114.3,180.7 L1115.3,181.2 L1116.3,181.7 L1117.3,182.2 L1118.3,182.7 L1119.3,183.1 L1120.3,183.6 L1121.3,184.0 L1122.3,184.5 L1123.3,184.9 L1124.3,185.4 L1125.3,185.9 L1126.3,186.3 L1127.3,186.8 L1128.3,187.2 L1129.3,187.7 L1130.3,188.2 L1131.3,188.6 L1132.3,189.1 L1133.3,189.5 L1134.3,189.9 L1135.3,190.4 L1136.3,190.8 L1137.3,191.2 L1138.3,191.6 L1139.3,192.0 L1140.3,192.3 L1141.3,192.7 L1142.3,193.0 L1143.3,193.3 L1144.3,193.6 L1145.3,193.9 L1146.3,194.2 L1147.3,194.5 L1148.3,194.8 L1149.3,195.0 L1150.3,195.3 L1151.3,195.6 L1152.3,195.9 L1153.3,196.1 L1154.3,196.4 L1155.3,196.6 L1156.3,196.9 L1157.3,197.2 L1158.3,197.4 L1159.3,197.7 L1160.3,197.9 L1161.3,198.2 L1162.3,198.4 L1163.3,198.7 L1164.3,198.9 L1165.3,199.2 L1166.3,199.4 L1167.3,199.6 L1168.3,199.9 L1169.3,200.1 L1170.3,200.3 L1171.3,200.6 L1172.3,200.8 L1173.3,201.0 L1174.3,201.2 L1175.3,201.4 L1176.3,201.6 L1177.3,201.8 L1178.3,202.0 L1179.3,202.2 L1180.3,202.3 L1181.3,202.5 L1182.3,202.7 L1183.3,202.8 L1184.3,203.0 L1185.3,203.1 L1186.3,203.3 L1187.3,203.4 L1188.3,203.6 L1189.3,203.7 L1190.3,203.9 L1191.3,204.0 L1192.3,204.2 L1193.3,204.3 L1194.3,204.5 L1195.3,204.6 L1196.3,204.8 L1197.3,204.9 L1198.3,205.1 L1199.3,205.2 L1200.3,205.4 L1201.3,205.5 L1202.3,205.7 L1203.3,205.8 L1204.3,206.0 L1205.3,206.1 L1206.3,206.2 L1207.3,206.4 L1208.3,206.5 L1209.3,206.7 L1210.3,206.8 L1211.3,206.9 L1212.3,207.1 L1213.3,207.2 L1214.3,207.3 L1215.3,207.5 L1216.3,207.6 L1217.3,207.7 L1218.3,207.9 L1219.3,208.0 L1220.3,208.1 L1221.3,208.2 L1222.3,208.4 L1223.3,208.5 L1224.3,208.6 L1225.3,208.7 L1226.3,208.8 L1227.3,209.0 L1228.3,209.1 L1229.3,209.2 L1230.3,209.3 L1231.3,209.4 L1232.3,209.5 L1233.3,209.6 L1234.3,209.7 L1235.3,209.8 L1236.3,209.9 L1237.3,210.0 L1238.3,210.1 L1239.3,210.2 L1240.3,210.3 L1241.3,210.4 L1242.3,210.5 L1243.3,210.6 L1244.3,210.6 L1245.3,210.7 L1246.3,210.8 L1247.3,210.9 L1248.3,211.0 L1249.3,211.1 L1250.3,211.1 L1251.3,211.2 L1252.3,211.3 L1253.3,211.4 L1254.3,211.5 L1255.3,211.6 L1256.3,211.6 L1257.3,211.7 L1258.3,211.8 L1259.3,211.9 L1260.3,211.9 L1261.3,212.0 L1262.3,212.1 L1263.3,212.2 L1264.3,212.2 L1265.3,212.3 L1266.3,212.4 L1267.3,212.5 L1268.3,212.5 L1269.3,212.6 L1270.3,212.7 L1271.3,212.7 L1272.3,212.8 L1273.3,212.8 L1274.3,212.9 L1275.3,213.0 L1276.3,213.0 L1277.3,213.1 L1278.3,213.1 L1279.3,213.2 L1280.3,213.2 L1281.3,213.3 L1282.3,213.3 L1283.3,213.4 L1284.3,213.4 L1285.3,213.5 L1286.3,213.5 L1287.3,213.6 L1288.3,213.6 L1289.3,213.7 L1290.3,213.7 L1291.3,213.8 L1292.3,213.8 L1293.3,213.9 L1294.3,213.9 L1295.3,214.0 L1296.3,214.0 L1297.3,214.1 L1298.3,214.1 L1299.3,214.2 L1300.3,214.2 L1301.3,214.3 L1302.3,214.3 L1303.3,214.4 L1304.3,214.4 L1305.3,214.4 L1306.3,214.5 L1307.3,214.5 L1308.3,214.6 L1309.3,214.6 L1310.3,214.6 L1311.3,214.7 L1312.3,214.7 L1313.3,214.7 L1314.3,214.8 L1315.3,214.8 L1316.3,214.8 L1317.3,214.9 L1318.3,214.9 L1319.3,214.9 L1320.3,215.0 L1321.3,215.0 L1322.3,215.0 L1323.3,215.0 L1324.3,215.1 L1325.3,215.1 L1326.3,215.1 L1327.3,215.2 L1328.3,215.2 L1329.3,215.2 L1330.3,215.2 L1331.3,215.3 L1332.3,215.3 L1333.3,215.3 L1334.3,215.4 L1335.3,215.4 L1336.3,215.4 L1337.3,215.4 L1338.3,215.5 L1339.3,215.5 L1340.3,215.5 L1341.3,215.5 L1342.3,215.6 L1343.3,215.6 L1344.3,215.6 L1345.3,215.6 L1346.3,215.6 L1347.3,215.6 L1348.3,215.6 L1349.3,215.6 L1350.3,215.6 L1351.3,215.6 L1352.3,215.6 L1353.3,215.6 L1354.3,215.6 L1355.3,215.6 L1356.3,215.6 L1357.3,215.7 L1358.3,215.7 L1359.3,215.7 L1360.3,215.7 L1361.3,215.7 L1362.3,215.7 L1363.3,215.7 L1364.3,215.7 L1365.3,215.7 L1366.3,215.7 L1367.3,215.7 L1368.3,215.7 L1369.3,215.7 L1370.3,215.7 L1371.3,215.7 L1372.3,215.7 L1373.3,215.7 L1374.3,215.7 L1375.3,215.7 L1376.3,215.7 L1377.3,215.6 L1378.3,215.6 L1379.3,215.6 L1380.3,215.6 L1381.3,215.6 L1382.3,215.6 L1383.3,215.6 L1384.3,215.6 L1385.3,215.6 L1386.3,215.6 L1387.3,215.6 L1388.3,215.6 L1389.3,215.6 L1390.3,215.6 L1390.7,215.6" fill="none" stroke="#e1303a" stroke-width="3.4" stroke-linejoin="round" stroke-linecap="round"/>
<rect x="203.6" y="13.2" width="1256.9" height="253.1" fill="none" stroke="#000" stroke-width="2.8"/>
<line x1="203.6" y1="266.3" x2="203.6" y2="283.3" stroke="#000" stroke-width="2.4"/>
<text x="203.6" y="323.8" font-size="37" text-anchor="middle">0.5</text>
<line x1="282.2" y1="266.3" x2="282.2" y2="274.8" stroke="#000" stroke-width="2.4"/>
<line x1="360.7" y1="266.3" x2="360.7" y2="283.3" stroke="#000" stroke-width="2.4"/>
<text x="360.7" y="323.8" font-size="37" text-anchor="middle">0.6</text>
<line x1="439.3" y1="266.3" x2="439.3" y2="274.8" stroke="#000" stroke-width="2.4"/>
<line x1="517.8" y1="266.3" x2="517.8" y2="283.3" stroke="#000" stroke-width="2.4"/>
<text x="517.8" y="323.8" font-size="37" text-anchor="middle">0.7</text>
<line x1="596.4" y1="266.3" x2="596.4" y2="274.8" stroke="#000" stroke-width="2.4"/>
<line x1="674.9" y1="266.3" x2="674.9" y2="283.3" stroke="#000" stroke-width="2.4"/>
<text x="674.9" y="323.8" font-size="37" text-anchor="middle">0.8</text>
<line x1="753.5" y1="266.3" x2="753.5" y2="274.8" stroke="#000" stroke-width="2.4"/>
<line x1="832.1" y1="266.3" x2="832.1" y2="283.3" stroke="#000" stroke-width="2.4"/>
<text x="832.1" y="323.8" font-size="37" text-anchor="middle">0.9</text>
<line x1="910.6" y1="266.3" x2="910.6" y2="274.8" stroke="#000" stroke-width="2.4"/>
<line x1="989.2" y1="266.3" x2="989.2" y2="283.3" stroke="#000" stroke-width="2.4"/>
<text x="989.2" y="323.8" font-size="37" text-anchor="middle">1.0</text>
<line x1="1067.7" y1="266.3" x2="1067.7" y2="274.8" stroke="#000" stroke-width="2.4"/>
<line x1="1146.3" y1="266.3" x2="1146.3" y2="283.3" stroke="#000" stroke-width="2.4"/>
<text x="1146.3" y="323.8" font-size="37" text-anchor="middle">1.1</text>
<line x1="1224.8" y1="266.3" x2="1224.8" y2="274.8" stroke="#000" stroke-width="2.4"/>
<line x1="1303.4" y1="266.3" x2="1303.4" y2="283.3" stroke="#000" stroke-width="2.4"/>
<text x="1303.4" y="323.8" font-size="37" text-anchor="middle">1.2</text>
<line x1="1381.9" y1="266.3" x2="1381.9" y2="274.8" stroke="#000" stroke-width="2.4"/>
<line x1="1460.5" y1="266.3" x2="1460.5" y2="283.3" stroke="#000" stroke-width="2.4"/>
<text x="1460.5" y="323.8" font-size="37" text-anchor="middle">1.3</text>
<line x1="186.6" y1="238.5" x2="203.6" y2="238.5" stroke="#000" stroke-width="2.4"/>
<text transform="translate(173.4,250.0) scale(1,1.05)" font-size="41" text-anchor="end">0</text>
<line x1="186.6" y1="183.6" x2="203.6" y2="183.6" stroke="#000" stroke-width="2.4"/>
<text transform="translate(173.4,195.6) scale(1,1.05)" font-size="41" text-anchor="end">10000</text>
<line x1="186.6" y1="128.7" x2="203.6" y2="128.7" stroke="#000" stroke-width="2.4"/>
<text transform="translate(173.4,140.3) scale(1,1.05)" font-size="41" text-anchor="end">20000</text>
<line x1="186.6" y1="73.8" x2="203.6" y2="73.8" stroke="#000" stroke-width="2.4"/>
<text transform="translate(173.4,84.3) scale(1,1.05)" font-size="41" text-anchor="end">30000</text>
<line x1="186.6" y1="18.9" x2="203.6" y2="18.9" stroke="#000" stroke-width="2.4"/>
<text transform="translate(173.4,29.2) scale(1,1.05)" font-size="41" text-anchor="end">40000</text>
<line x1="194.6" y1="211.1" x2="203.6" y2="211.1" stroke="#000" stroke-width="2.4"/>
<line x1="194.6" y1="156.2" x2="203.6" y2="156.2" stroke="#000" stroke-width="2.4"/>
<line x1="194.6" y1="101.2" x2="203.6" y2="101.2" stroke="#000" stroke-width="2.4"/>
<line x1="194.6" y1="46.3" x2="203.6" y2="46.3" stroke="#000" stroke-width="2.4"/>
<line x1="194.6" y1="265.9" x2="203.6" y2="265.9" stroke="#000" stroke-width="2.4"/>
<rect x="1172.6" y="25.6" width="266.8" height="128.2" fill="#fff" stroke="#222" stroke-width="1.4"/>
<line x1="1177.0" y1="59.5" x2="1290.0" y2="59.5" stroke="#404040" stroke-width="3.6"/>
<line x1="1177.0" y1="120.4" x2="1290.0" y2="120.4" stroke="#e1303a" stroke-width="3.6"/>
<text transform="translate(1301.0,76.2) scale(1,1.045)" font-size="48.5">Core 1</text>
<text transform="translate(1301.0,136.1) scale(1,1.045)" font-size="48.5">Core 2</text>
<text x="228.2" y="396.8" font-size="49.4" xml:space="preserve" fill="#000">n=1.40  T=20°C</text>
<path d="M364.0,576.0 L365.0,576.0 L366.0,576.0 L367.0,576.0 L368.0,576.0 L369.0,576.0 L370.0,576.0 L371.0,576.0 L372.0,576.0 L373.0,576.0 L374.0,576.0 L375.0,576.1 L376.0,576.1 L377.0,576.1 L378.0,576.1 L379.0,576.1 L380.0,576.1 L381.0,576.1 L382.0,576.1 L383.0,576.1 L384.0,576.1 L385.0,576.1 L386.0,576.1 L387.0,576.1 L388.0,576.1 L389.0,576.1 L390.0,576.1 L391.0,576.1 L392.0,576.1 L393.0,576.1 L394.0,576.1 L395.0,576.1 L396.0,576.1 L397.0,576.1 L398.0,576.1 L399.0,576.2 L400.0,576.2 L401.0,576.2 L402.0,576.2 L403.0,576.2 L404.0,576.2 L405.0,576.2 L406.0,576.2 L407.0,576.2 L408.0,576.2 L409.0,576.2 L410.0,576.2 L411.0,576.2 L412.0,576.2 L413.0,576.2 L414.0,576.2 L415.0,576.2 L416.0,576.2 L417.0,576.2 L418.0,576.2 L419.0,576.2 L420.0,576.2 L421.0,576.2 L422.0,576.2 L423.0,576.2 L424.0,576.2 L425.0,576.2 L426.0,576.2 L427.0,576.2 L428.0,576.2 L429.0,576.2 L430.0,576.2 L431.0,576.2 L432.0,576.2 L433.0,576.2 L434.0,576.2 L435.0,576.2 L436.0,576.2 L437.0,576.2 L438.0,576.2 L439.0,576.2 L440.0,576.2 L441.0,576.2 L442.0,576.2 L443.0,576.2 L444.0,576.2 L445.0,576.2 L446.0,576.2 L447.0,576.2 L448.0,576.2 L449.0,576.2 L450.0,576.2 L451.0,576.2 L452.0,576.2 L453.0,576.2 L454.0,576.2 L455.0,576.2 L456.0,576.2 L457.0,576.2 L458.0,576.2 L459.0,576.2 L460.0,576.2 L461.0,576.2 L462.0,576.2 L463.0,576.2 L464.0,576.2 L465.0,576.2 L466.0,576.2 L467.0,576.2 L468.0,576.2 L469.0,576.2 L470.0,576.2 L471.0,576.2 L472.0,576.2 L473.0,576.2 L474.0,576.2 L475.0,576.2 L476.0,576.2 L477.0,576.2 L478.0,576.2 L479.0,576.2 L480.0,576.2 L481.0,576.2 L482.0,576.2 L483.0,576.2 L484.0,576.2 L485.0,576.2 L486.0,576.2 L487.0,576.2 L488.0,576.2 L489.0,576.2 L490.0,576.2 L491.0,576.2 L492.0,576.2 L493.0,576.2 L494.0,576.2 L495.0,576.2 L496.0,576.2 L497.0,576.2 L498.0,576.1 L499.0,576.1 L500.0,576.1 L501.0,576.1 L502.0,576.1 L503.0,576.1 L504.0,576.1 L505.0,576.1 L506.0,576.1 L507.0,576.1 L508.0,576.1 L509.0,576.1 L510.0,576.1 L511.0,576.1 L512.0,576.1 L513.0,576.1 L514.0,576.1 L515.0,576.1 L516.0,576.0 L517.0,576.0 L518.0,576.0 L519.0,576.0 L520.0,576.0 L521.0,576.0 L522.0,575.9 L523.0,575.9 L524.0,575.8 L525.0,575.8 L526.0,575.7 L527.0,575.7 L528.0,575.6 L529.0,575.5 L530.0,575.5 L531.0,575.4 L532.0,575.3 L533.0,575.2 L534.0,575.2 L535.0,575.1 L536.0,575.0 L537.0,575.0 L538.0,574.9 L539.0,574.8 L540.0,574.8 L541.0,574.7 L542.0,574.6 L543.0,574.6 L544.0,574.5 L545.0,574.5 L546.0,574.4 L547.0,574.4 L548.0,574.4 L549.0,574.4 L550.0,574.4 L551.0,574.4 L552.0,574.4 L553.0,574.4 L554.0,574.4 L555.0,574.4 L556.0,574.4 L557.0,574.4 L558.0,574.3 L559.0,574.3 L560.0,574.3 L561.0,574.3 L562.0,574.3 L563.0,574.3 L564.0,574.3 L565.0,574.3 L566.0,574.3 L567.0,574.3 L568.0,574.3 L569.0,574.3 L570.0,574.3 L571.0,574.3 L572.0,574.2 L573.0,574.2 L574.0,574.2 L575.0,574.2 L576.0,574.2 L577.0,574.2 L578.0,574.2 L579.0,574.2 L580.0,574.2 L581.0,574.1 L582.0,574.1 L583.0,574.1 L584.0,574.1 L585.0,574.1 L586.0,574.1 L587.0,574.1 L588.0,574.0 L589.0,574.0 L590.0,573.9 L591.0,573.8 L592.0,573.7 L593.0,573.5 L594.0,573.3 L595.0,573.1 L596.0,572.9 L597.0,572.7 L598.0,572.5 L599.0,572.3 L600.0,572.2 L601.0,572.1 L602.0,572.0 L603.0,571.9 L604.0,571.9 L605.0,571.8 L606.0,571.8 L607.0,571.8 L608.0,571.7 L609.0,571.7 L610.0,571.7 L611.0,571.6 L612.0,571.6 L613.0,571.5 L614.0,571.5 L615.0,571.5 L616.0,571.4 L617.0,571.4 L618.0,571.3 L619.0,571.3 L620.0,571.3 L621.0,571.2 L622.0,571.2 L623.0,571.1 L624.0,571.1 L625.0,571.0 L626.0,571.0 L627.0,570.9 L628.0,570.9 L629.0,570.8 L630.0,570.8 L631.0,570.7 L632.0,570.7 L633.0,570.6 L634.0,570.6 L635.0,570.5 L636.0,570.5 L637.0,570.4 L638.0,570.4 L639.0,570.3 L640.0,570.2 L641.0,570.2 L642.0,570.1 L643.0,570.1 L644.0,570.0 L645.0,569.9 L646.0,569.9 L647.0,569.8 L648.0,569.8 L649.0,569.7 L650.0,569.6 L651.0,569.6 L652.0,569.5 L653.0,569.4 L654.0,569.4 L655.0,569.3 L656.0,569.2 L657.0,569.1 L658.0,569.1 L659.0,569.0 L660.0,568.9 L661.0,568.9 L662.0,568.8 L663.0,568.7 L664.0,568.7 L665.0,568.6 L666.0,568.5 L667.0,568.4 L668.0,568.3 L669.0,568.3 L670.0,568.2 L671.0,568.0 L672.0,567.9 L673.0,567.8 L674.0,567.6 L675.0,567.4 L676.0,567.3 L677.0,567.1 L678.0,566.9 L679.0,566.7 L680.0,566.5 L681.0,566.3 L682.0,566.1 L683.0,565.9 L684.0,565.7 L685.0,565.5 L686.0,565.3 L687.0,565.1 L688.0,564.9 L689.0,564.6 L690.0,564.4 L691.0,564.2 L692.0,564.0 L693.0,563.8 L694.0,563.6 L695.0,563.4 L696.0,563.2 L697.0,562.9 L698.0,562.7 L699.0,562.5 L700.0,562.3 L701.0,562.0 L702.0,561.8 L703.0,561.5 L704.0,561.3 L705.0,561.0 L706.0,560.8 L707.0,560.5 L708.0,560.2 L709.0,560.0 L710.0,559.7 L711.0,559.4 L712.0,559.1 L713.0,558.8 L714.0,558.5 L715.0,558.2 L716.0,557.9 L717.0,557.6 L718.0,557.3 L719.0,556.9 L720.0,556.6 L721.0,556.2 L722.0,555.8 L723.0,555.4 L724.0,555.0 L725.0,554.6 L726.0,554.2 L727.0,553.7 L728.0,553.3 L729.0,552.8 L730.0,552.3 L731.0,551.8 L732.0,551.3 L733.0,550.8 L734.0,550.3 L735.0,549.8 L736.0,549.2 L737.0,548.6 L738.0,548.0 L739.0,547.4 L740.0,546.7 L741.0,546.0 L742.0,545.3 L743.0,544.5 L744.0,543.7 L745.0,542.9 L746.0,542.1 L747.0,541.3 L748.0,540.5 L749.0,539.7 L750.0,538.9 L751.0,538.1 L752.0,537.2 L753.0,536.4 L754.0,535.5 L755.0,534.6 L756.0,533.7 L757.0,532.7 L758.0,531.8 L759.0,530.9 L760.0,529.9 L761.0,529.0 L762.0,528.0 L763.0,527.0 L764.0,526.0 L765.0,525.0 L766.0,523.9 L767.0,522.9 L768.0,521.8 L769.0,520.6 L770.0,519.4 L771.0,518.2 L772.0,516.9 L773.0,515.6 L774.0,514.2 L775.0,512.8 L776.0,511.4 L777.0,509.9 L778.0,508.4 L779.0,506.8 L780.0,505.2 L781.0,503.6 L782.0,502.0 L783.0,500.5 L784.0,498.9 L785.0,497.4 L786.0,496.0 L787.0,494.7 L788.0,493.5 L789.0,492.4 L790.0,491.3 L791.0,490.3 L792.0,489.3 L793.0,488.4 L794.0,487.5 L795.0,486.6 L796.0,485.9 L797.0,485.2 L798.0,484.7 L799.0,484.3 L800.0,484.0 L801.0,483.8 L802.0,483.8 L803.0,484.0 L804.0,484.3 L805.0,484.7 L806.0,485.3 L807.0,485.9 L808.0,486.7 L809.0,487.5 L810.0,488.4 L811.0,489.3 L812.0,490.3 L813.0,491.3 L814.0,492.3 L815.0,493.4 L816.0,494.4 L817.0,495.5 L818.0,496.6 L819.0,497.7 L820.0,498.8 L821.0,499.9 L822.0,501.0 L823.0,502.1 L824.0,503.3 L825.0,504.4 L826.0,505.5 L827.0,506.7 L828.0,507.8 L829.0,508.9 L830.0,510.0 L831.0,511.1 L832.0,512.2 L833.0,513.2 L834.0,514.2 L835.0,515.3 L836.0,516.3 L837.0,517.2 L838.0,518.2 L839.0,519.1 L840.0,520.1 L841.0,521.0 L842.0,521.8 L843.0,522.7 L844.0,523.5 L845.0,524.3 L846.0,525.1 L847.0,525.9 L848.0,526.7 L849.0,527.5 L850.0,528.4 L851.0,529.2 L852.0,530.0 L853.0,530.9 L854.0,531.7 L855.0,532.5 L856.0,533.3 L857.0,534.1 L858.0,534.9 L859.0,535.6 L860.0,536.3 L861.0,537.1 L862.0,537.7 L863.0,538.4 L864.0,539.0 L865.0,539.6 L866.0,540.1 L867.0,540.7 L868.0,541.2 L869.0,541.7 L870.0,542.1 L871.0,542.6 L872.0,543.1 L873.0,543.5 L874.0,543.9 L875.0,544.4 L876.0,544.8 L877.0,545.2 L878.0,545.6 L879.0,545.9 L880.0,546.3 L881.0,546.6 L882.0,547.0 L883.0,547.3 L884.0,547.6 L885.0,547.9 L886.0,548.2 L887.0,548.5 L888.0,548.8 L889.0,549.1 L890.0,549.4 L891.0,549.7 L892.0,549.9 L893.0,550.2 L894.0,550.5 L895.0,550.7 L896.0,551.0 L897.0,551.3 L898.0,551.6 L899.0,551.9 L900.0,552.2 L901.0,552.5 L902.0,552.8 L903.0,553.1 L904.0,553.4 L905.0,553.7 L906.0,554.0 L907.0,554.3 L908.0,554.6 L909.0,554.8 L910.0,555.1 L911.0,555.4 L912.0,555.6 L913.0,555.9 L914.0,556.1 L915.0,556.4 L916.0,556.6 L917.0,556.8 L918.0,557.0 L919.0,557.2 L920.0,557.4 L921.0,557.6 L922.0,557.7 L923.0,557.8 L924.0,558.0 L925.0,558.1 L926.0,558.2 L927.0,558.3 L928.0,558.4 L929.0,558.5 L930.0,558.6 L931.0,558.7 L932.0,558.8 L933.0,558.9 L934.0,559.0 L935.0,559.0 L936.0,559.1 L937.0,559.2 L938.0,559.3 L939.0,559.4 L940.0,559.5 L941.0,559.6 L942.0,559.7 L943.0,559.8 L944.0,559.9 L945.0,560.0 L946.0,560.1 L947.0,560.2 L948.0,560.3 L949.0,560.4 L950.0,560.5 L951.0,560.6 L952.0,560.7 L953.0,560.8 L954.0,560.9 L955.0,561.0 L956.0,561.1 L957.0,561.2 L958.0,561.3 L959.0,561.4 L960.0,561.5 L961.0,561.6 L962.0,561.6 L963.0,561.7 L964.0,561.8 L965.0,561.9 L966.0,562.0 L967.0,562.0 L968.0,562.1 L969.0,562.2 L970.0,562.3 L971.0,562.3 L972.0,562.4 L973.0,562.5 L974.0,562.5 L975.0,562.6 L976.0,562.7 L977.0,562.7 L978.0,562.8 L979.0,562.9 L980.0,562.9 L981.0,563.0 L982.0,563.1 L983.0,563.1 L984.0,563.2 L985.0,563.2 L986.0,563.3 L987.0,563.4 L988.0,563.4 L989.0,563.5 L990.0,563.5 L991.0,563.6 L992.0,563.6 L993.0,563.7 L994.0,563.7 L995.0,563.8 L996.0,563.8 L997.0,563.9 L998.0,563.9 L999.0,564.0 L1000.0,564.0 L1001.0,564.1 L1002.0,564.1 L1003.0,564.2 L1004.0,564.2 L1005.0,564.3 L1006.0,564.3 L1007.0,564.3 L1008.0,564.4 L1009.0,564.4 L1010.0,564.5 L1011.0,564.5 L1012.0,564.6 L1013.0,564.6 L1014.0,564.6 L1015.0,564.7 L1016.0,564.7 L1017.0,564.7 L1018.0,564.8 L1019.0,564.8 L1020.0,564.9 L1021.0,564.9 L1022.0,564.9 L1023.0,565.0 L1024.0,565.0 L1025.0,565.0 L1026.0,565.1 L1027.0,565.1 L1028.0,565.1 L1029.0,565.2 L1030.0,565.2 L1031.0,565.2 L1032.0,565.3 L1033.0,565.3 L1034.0,565.3 L1035.0,565.3 L1036.0,565.4 L1037.0,565.4 L1038.0,565.4 L1039.0,565.4 L1040.0,565.4 L1041.0,565.4 L1042.0,565.4 L1043.0,565.4 L1044.0,565.5 L1045.0,565.5 L1046.0,565.5 L1047.0,565.5 L1048.0,565.5 L1049.0,565.5 L1050.0,565.5 L1051.0,565.5 L1052.0,565.5 L1053.0,565.5 L1054.0,565.5 L1055.0,565.5 L1056.0,565.5 L1057.0,565.5 L1058.0,565.5 L1059.0,565.5 L1060.0,565.5 L1061.0,565.5 L1062.0,565.5 L1063.0,565.5 L1064.0,565.5 L1065.0,565.5 L1066.0,565.5 L1067.0,565.5 L1068.0,565.5 L1069.0,565.5 L1070.0,565.5 L1071.0,565.5 L1072.0,565.5 L1073.0,565.5 L1074.0,565.5 L1075.0,565.5 L1076.0,565.5 L1077.0,565.5 L1078.0,565.5 L1079.0,565.5 L1080.0,565.5 L1081.0,565.5 L1082.0,565.5 L1083.0,565.5 L1084.0,565.5 L1085.0,565.5 L1086.0,565.5 L1087.0,565.5 L1088.0,565.5 L1089.0,565.5 L1090.0,565.5 L1091.0,565.5 L1092.0,565.4 L1093.0,565.4 L1094.0,565.4 L1095.0,565.4 L1096.0,565.4 L1097.0,565.4 L1098.0,565.4 L1099.0,565.4 L1100.0,565.4 L1101.0,565.4 L1102.0,565.4 L1103.0,565.4 L1104.0,565.4 L1105.0,565.4 L1106.0,565.4 L1107.0,565.4 L1108.0,565.5 L1109.0,565.5 L1110.0,565.5 L1111.0,565.5 L1112.0,565.5 L1113.0,565.5 L1114.0,565.5 L1115.0,565.5 L1116.0,565.5 L1117.0,565.5 L1118.0,565.5 L1119.0,565.5 L1120.0,565.5 L1121.0,565.5 L1122.0,565.5 L1123.0,565.5 L1124.0,565.5 L1125.0,565.5 L1126.0,565.5 L1127.0,565.5 L1128.0,565.5 L1129.0,565.5 L1130.0,565.6 L1131.0,565.6 L1132.0,565.6 L1133.0,565.6 L1134.0,565.6 L1135.0,565.6 L1136.0,565.6 L1137.0,565.6 L1138.0,565.6 L1139.0,565.6 L1140.0,565.6 L1141.0,565.6 L1142.0,565.6 L1143.0,565.6 L1144.0,565.6 L1145.0,565.6 L1146.0,565.6 L1147.0,565.6 L1148.0,565.6 L1149.0,565.6 L1150.0,565.6 L1151.0,565.6 L1152.0,565.6 L1153.0,565.6 L1154.0,565.6 L1155.0,565.6 L1156.0,565.6 L1157.0,565.6 L1158.0,565.6 L1159.0,565.6 L1160.0,565.6 L1161.0,565.6 L1162.0,565.6 L1163.0,565.6 L1164.0,565.6 L1165.0,565.6 L1166.0,565.6 L1167.0,565.6 L1168.0,565.6 L1169.0,565.6 L1170.0,565.6 L1171.0,565.6 L1172.0,565.6 L1173.0,565.6 L1174.0,565.6 L1175.0,565.6 L1176.0,565.6 L1177.0,565.6 L1178.0,565.6 L1179.0,565.6 L1180.0,565.6 L1181.0,565.6 L1182.0,565.6 L1183.0,565.6 L1184.0,565.6 L1185.0,565.6 L1186.0,565.6 L1187.0,565.6 L1188.0,565.6 L1189.0,565.6 L1190.0,565.6 L1191.0,565.6 L1192.0,565.6 L1193.0,565.6 L1194.0,565.6 L1195.0,565.6 L1196.0,565.6 L1197.0,565.6 L1198.0,565.6 L1199.0,565.6 L1200.0,565.6 L1201.0,565.6 L1202.0,565.6 L1203.0,565.6 L1204.0,565.6 L1205.0,565.6 L1206.0,565.6 L1207.0,565.6 L1208.0,565.6 L1209.0,565.6 L1210.0,565.6 L1211.0,565.6 L1212.0,565.6 L1213.0,565.6 L1214.0,565.6 L1215.0,565.6 L1216.0,565.6 L1217.0,565.6 L1218.0,565.6 L1219.0,565.6 L1220.0,565.6 L1221.0,565.6 L1222.0,565.6 L1223.0,565.6 L1224.0,565.6 L1225.0,565.6 L1226.0,565.6 L1227.0,565.6 L1228.0,565.6 L1229.0,565.6 L1230.0,565.6 L1231.0,565.6 L1232.0,565.6 L1233.0,565.6 L1234.0,565.6 L1235.0,565.6 L1236.0,565.6 L1237.0,565.6 L1238.0,565.6 L1239.0,565.6 L1240.0,565.6 L1241.0,565.6 L1242.0,565.6 L1243.0,565.6 L1244.0,565.6 L1245.0,565.6 L1246.0,565.6 L1247.0,565.6 L1248.0,565.5 L1249.0,565.5 L1250.0,565.5 L1251.0,565.5 L1252.0,565.5 L1253.0,565.5 L1254.0,565.5 L1255.0,565.5 L1256.0,565.5 L1257.0,565.5 L1258.0,565.5 L1259.0,565.5 L1260.0,565.5 L1261.0,565.5 L1262.0,565.5 L1263.0,565.5 L1264.0,565.5 L1265.0,565.5 L1266.0,565.5 L1267.0,565.5 L1268.0,565.5 L1269.0,565.5 L1270.0,565.5 L1271.0,565.5 L1272.0,565.5 L1273.0,565.5 L1274.0,565.5 L1275.0,565.5 L1276.0,565.5 L1277.0,565.5 L1278.0,565.5 L1279.0,565.5 L1280.0,565.5 L1281.0,565.5 L1282.0,565.5 L1283.0,565.5 L1284.0,565.5 L1285.0,565.5 L1286.0,565.5 L1287.0,565.5 L1288.0,565.5 L1289.0,565.5 L1290.0,565.4 L1291.0,565.4 L1292.0,565.4 L1293.0,565.4 L1294.0,565.4 L1295.0,565.4 L1296.0,565.4 L1297.0,565.4 L1298.0,565.4 L1299.0,565.4 L1300.0,565.4 L1301.0,565.4 L1302.0,565.4 L1303.0,565.4 L1304.0,565.4 L1305.0,565.4 L1306.0,565.4 L1307.0,565.4 L1308.0,565.4 L1309.0,565.4 L1310.0,565.4 L1311.0,565.4 L1312.0,565.4 L1313.0,565.4 L1314.0,565.4 L1315.0,565.4 L1316.0,565.4 L1317.0,565.4 L1318.0,565.4 L1319.0,565.4 L1320.0,565.4 L1321.0,565.4 L1322.0,565.4 L1323.0,565.4 L1324.0,565.4 L1325.0,565.4 L1326.0,565.4 L1327.0,565.4 L1328.0,565.3 L1329.0,565.3 L1330.0,565.3 L1331.0,565.3 L1332.0,565.3 L1333.0,565.3 L1334.0,565.3 L1335.0,565.3 L1336.0,565.3 L1337.0,565.3 L1338.0,565.3 L1339.0,565.3 L1340.0,565.3 L1341.0,565.3 L1342.0,565.3 L1343.0,565.2 L1344.0,565.1 L1345.0,565.0 L1346.0,564.7 L1347.0,564.5 L1348.0,564.3 L1349.0,564.0 L1350.0,563.9 L1351.0,563.8 L1352.0,563.7 L1353.0,563.7 L1354.0,563.7 L1355.0,563.7 L1356.0,563.7 L1357.0,563.7 L1358.0,563.7 L1359.0,563.7 L1360.0,563.7 L1361.0,563.7 L1362.0,563.7 L1363.0,563.7 L1364.0,563.7 L1365.0,563.7 L1366.0,563.7 L1367.0,563.7 L1368.0,563.7 L1369.0,563.7 L1370.0,563.7 L1371.0,563.7 L1372.0,563.7 L1372.7,563.7" fill="none" stroke="#404040" stroke-width="3.4" stroke-linejoin="round" stroke-linecap="round"/>
<path d="M522.4,576.0 L523.4,576.0 L524.4,576.0 L525.4,576.0 L526.4,576.0 L527.4,576.0 L528.4,576.0 L529.4,576.0 L530.4,576.0 L531.4,575.9 L532.4,575.9 L533.4,575.9 L534.4,575.9 L535.4,575.9 L536.4,575.9 L537.4,575.9 L538.4,575.9 L539.4,575.9 L540.4,575.9 L541.4,575.9 L542.4,575.9 L543.4,575.9 L544.4,575.9 L545.4,575.8 L546.4,575.8 L547.4,575.8 L548.4,575.8 L549.4,575.8 L550.4,575.8 L551.4,575.8 L552.4,575.8 L553.4,575.8 L554.4,575.8 L555.4,575.8 L556.4,575.8 L557.4,575.8 L558.4,575.7 L559.4,575.7 L560.4,575.7 L561.4,575.7 L562.4,575.7 L563.4,575.7 L564.4,575.7 L565.4,575.7 L566.4,575.7 L567.4,575.7 L568.4,575.7 L569.4,575.6 L570.4,575.6 L571.4,575.6 L572.4,575.6 L573.4,575.6 L574.4,575.6 L575.4,575.6 L576.4,575.6 L577.4,575.6 L578.4,575.5 L579.4,575.5 L580.4,575.5 L581.4,575.5 L582.4,575.5 L583.4,575.5 L584.4,575.5 L585.4,575.5 L586.4,575.5 L587.4,575.4 L588.4,575.4 L589.4,575.4 L590.4,575.3 L591.4,575.2 L592.4,575.2 L593.4,575.1 L594.4,574.9 L595.4,574.8 L596.4,574.7 L597.4,574.6 L598.4,574.5 L599.4,574.4 L600.4,574.3 L601.4,574.3 L602.4,574.2 L603.4,574.2 L604.4,574.2 L605.4,574.2 L606.4,574.2 L607.4,574.2 L608.4,574.3 L609.4,574.3 L610.4,574.3 L611.4,574.3 L612.4,574.3 L613.4,574.3 L614.4,574.3 L615.4,574.3 L616.4,574.3 L617.4,574.3 L618.4,574.3 L619.4,574.3 L620.4,574.3 L621.4,574.3 L622.4,574.3 L623.4,574.3 L624.4,574.3 L625.4,574.3 L626.4,574.3 L627.4,574.3 L628.4,574.3 L629.4,574.3 L630.4,574.3 L631.4,574.3 L632.4,574.3 L633.4,574.3 L634.4,574.3 L635.4,574.3 L636.4,574.3 L637.4,574.3 L638.4,574.3 L639.4,574.3 L640.4,574.3 L641.4,574.3 L642.4,574.3 L643.4,574.3 L644.4,574.3 L645.4,574.3 L646.4,574.3 L647.4,574.3 L648.4,574.3 L649.4,574.3 L650.4,574.3 L651.4,574.3 L652.4,574.3 L653.4,574.3 L654.4,574.3 L655.4,574.3 L656.4,574.3 L657.4,574.3 L658.4,574.3 L659.4,574.3 L660.4,574.3 L661.4,574.2 L662.4,574.2 L663.4,574.2 L664.4,574.2 L665.4,574.2 L666.4,574.2 L667.4,574.2 L668.4,574.2 L669.4,574.2 L670.4,574.2 L671.4,574.2 L672.4,574.1 L673.4,574.1 L674.4,574.1 L675.4,574.1 L676.4,574.1 L677.4,574.1 L678.4,574.1 L679.4,574.1 L680.4,574.0 L681.4,574.0 L682.4,574.0 L683.4,573.9 L684.4,573.8 L685.4,573.6 L686.4,573.5 L687.4,573.3 L688.4,573.2 L689.4,573.1 L690.4,573.0 L691.4,572.9 L692.4,572.8 L693.4,572.8 L694.4,572.8 L695.4,572.8 L696.4,572.8 L697.4,572.8 L698.4,572.8 L699.4,572.7 L700.4,572.7 L701.4,572.7 L702.4,572.7 L703.4,572.7 L704.4,572.7 L705.4,572.7 L706.4,572.7 L707.4,572.7 L708.4,572.7 L709.4,572.6 L710.4,572.6 L711.4,572.6 L712.4,572.6 L713.4,572.6 L714.4,572.6 L715.4,572.5 L716.4,572.5 L717.4,572.5 L718.4,572.5 L719.4,572.5 L720.4,572.4 L721.4,572.4 L722.4,572.4 L723.4,572.4 L724.4,572.3 L725.4,572.3 L726.4,572.3 L727.4,572.2 L728.4,572.2 L729.4,572.1 L730.4,572.1 L731.4,572.0 L732.4,572.0 L733.4,571.9 L734.4,571.8 L735.4,571.8 L736.4,571.7 L737.4,571.6 L738.4,571.6 L739.4,571.5 L740.4,571.4 L741.4,571.4 L742.4,571.3 L743.4,571.2 L744.4,571.1 L745.4,571.1 L746.4,571.0 L747.4,570.9 L748.4,570.8 L749.4,570.7 L750.4,570.7 L751.4,570.6 L752.4,570.5 L753.4,570.4 L754.4,570.3 L755.4,570.2 L756.4,570.2 L757.4,570.1 L758.4,570.0 L759.4,569.9 L760.4,569.8 L761.4,569.7 L762.4,569.6 L763.4,569.5 L764.4,569.4 L765.4,569.3 L766.4,569.2 L767.4,569.1 L768.4,569.0 L769.4,568.9 L770.4,568.8 L771.4,568.6 L772.4,568.5 L773.4,568.4 L774.4,568.3 L775.4,568.2 L776.4,568.1 L777.4,567.9 L778.4,567.8 L779.4,567.7 L780.4,567.5 L781.4,567.4 L782.4,567.3 L783.4,567.1 L784.4,567.0 L785.4,566.9 L786.4,566.7 L787.4,566.6 L788.4,566.4 L789.4,566.3 L790.4,566.1 L791.4,566.0 L792.4,565.8 L793.4,565.6 L794.4,565.5 L795.4,565.3 L796.4,565.1 L797.4,565.0 L798.4,564.8 L799.4,564.6 L800.4,564.4 L801.4,564.2 L802.4,564.0 L803.4,563.9 L804.4,563.7 L805.4,563.4 L806.4,563.2 L807.4,563.0 L808.4,562.8 L809.4,562.6 L810.4,562.4 L811.4,562.1 L812.4,561.9 L813.4,561.7 L814.4,561.4 L815.4,561.2 L816.4,560.9 L817.4,560.7 L818.4,560.4 L819.4,560.1 L820.4,559.8 L821.4,559.6 L822.4,559.3 L823.4,559.0 L824.4,558.7 L825.4,558.4 L826.4,558.1 L827.4,557.8 L828.4,557.4 L829.4,557.1 L830.4,556.7 L831.4,556.2 L832.4,555.8 L833.4,555.3 L834.4,554.8 L835.4,554.3 L836.4,553.8 L837.4,553.3 L838.4,552.7 L839.4,552.2 L840.4,551.7 L841.4,551.2 L842.4,550.7 L843.4,550.2 L844.4,549.7 L845.4,549.2 L846.4,548.7 L847.4,548.1 L848.4,547.6 L849.4,547.0 L850.4,546.5 L851.4,545.9 L852.4,545.3 L853.4,544.6 L854.4,544.0 L855.4,543.4 L856.4,542.7 L857.4,542.1 L858.4,541.4 L859.4,540.7 L860.4,539.9 L861.4,539.2 L862.4,538.4 L863.4,537.6 L864.4,536.8 L865.4,535.9 L866.4,535.0 L867.4,534.1 L868.4,533.2 L869.4,532.2 L870.4,531.2 L871.4,530.2 L872.4,529.2 L873.4,528.1 L874.4,527.1 L875.4,526.0 L876.4,525.0 L877.4,524.0 L878.4,523.0 L879.4,522.0 L880.4,521.0 L881.4,520.0 L882.4,519.0 L883.4,518.0 L884.4,517.0 L885.4,515.9 L886.4,514.9 L887.4,513.8 L888.4,512.8 L889.4,511.7 L890.4,510.6 L891.4,509.5 L892.4,508.3 L893.4,507.1 L894.4,505.9 L895.4,504.6 L896.4,503.2 L897.4,501.9 L898.4,500.4 L899.4,498.9 L900.4,497.3 L901.4,495.7 L902.4,493.9 L903.4,492.1 L904.4,490.1 L905.4,488.0 L906.4,485.9 L907.4,483.6 L908.4,481.3 L909.4,478.9 L910.4,476.5 L911.4,474.1 L912.4,471.6 L913.4,469.1 L914.4,466.6 L915.4,464.0 L916.4,461.5 L917.4,459.0 L918.4,456.5 L919.4,454.1 L920.4,451.8 L921.4,449.4 L922.4,447.2 L923.4,445.0 L924.4,442.9 L925.4,440.8 L926.4,438.9 L927.4,437.1 L928.4,435.4 L929.4,433.9 L930.4,432.6 L931.4,431.5 L932.4,430.6 L933.4,430.2 L934.4,430.4 L935.4,430.8 L936.4,431.5 L937.4,432.4 L938.4,433.5 L939.4,434.8 L940.4,436.3 L941.4,438.0 L942.4,439.8 L943.4,441.8 L944.4,443.8 L945.4,445.9 L946.4,448.0 L947.4,450.1 L948.4,452.2 L949.4,454.3 L950.4,456.4 L951.4,458.4 L952.4,460.4 L953.4,462.4 L954.4,464.3 L955.4,466.1 L956.4,467.9 L957.4,469.7 L958.4,471.4 L959.4,473.1 L960.4,474.8 L961.4,476.4 L962.4,478.0 L963.4,479.5 L964.4,481.0 L965.4,482.5 L966.4,484.0 L967.4,485.5 L968.4,486.9 L969.4,488.3 L970.4,489.7 L971.4,491.1 L972.4,492.5 L973.4,493.8 L974.4,495.1 L975.4,496.4 L976.4,497.7 L977.4,499.0 L978.4,500.3 L979.4,501.6 L980.4,502.9 L981.4,504.2 L982.4,505.4 L983.4,506.7 L984.4,507.8 L985.4,508.9 L986.4,510.0 L987.4,511.0 L988.4,512.0 L989.4,512.9 L990.4,513.8 L991.4,514.7 L992.4,515.6 L993.4,516.4 L994.4,517.2 L995.4,518.0 L996.4,518.8 L997.4,519.6 L998.4,520.3 L999.4,521.0 L1000.4,521.6 L1001.4,522.2 L1002.4,522.8 L1003.4,523.3 L1004.4,523.9 L1005.4,524.4 L1006.4,524.9 L1007.4,525.5 L1008.4,526.0 L1009.4,526.5 L1010.4,527.1 L1011.4,527.6 L1012.4,528.2 L1013.4,528.7 L1014.4,529.2 L1015.4,529.7 L1016.4,530.2 L1017.4,530.7 L1018.4,531.1 L1019.4,531.6 L1020.4,532.1 L1021.4,532.5 L1022.4,532.9 L1023.4,533.4 L1024.4,533.8 L1025.4,534.2 L1026.4,534.6 L1027.4,535.0 L1028.4,535.4 L1029.4,535.8 L1030.4,536.1 L1031.4,536.5 L1032.4,536.9 L1033.4,537.3 L1034.4,537.7 L1035.4,538.1 L1036.4,538.4 L1037.4,538.8 L1038.4,539.1 L1039.4,539.5 L1040.4,539.8 L1041.4,540.2 L1042.4,540.5 L1043.4,540.8 L1044.4,541.1 L1045.4,541.5 L1046.4,541.8 L1047.4,542.1 L1048.4,542.4 L1049.4,542.7 L1050.4,543.0 L1051.4,543.2 L1052.4,543.5 L1053.4,543.8 L1054.4,544.1 L1055.4,544.4 L1056.4,544.6 L1057.4,544.9 L1058.4,545.1 L1059.4,545.3 L1060.4,545.6 L1061.4,545.8 L1062.4,546.0 L1063.4,546.2 L1064.4,546.4 L1065.4,546.6 L1066.4,546.8 L1067.4,547.0 L1068.4,547.1 L1069.4,547.3 L1070.4,547.5 L1071.4,547.7 L1072.4,547.9 L1073.4,548.0 L1074.4,548.2 L1075.4,548.4 L1076.4,548.5 L1077.4,548.7 L1078.4,548.8 L1079.4,549.0 L1080.4,549.1 L1081.4,549.3 L1082.4,549.4 L1083.4,549.6 L1084.4,549.7 L1085.4,549.9 L1086.4,550.0 L1087.4,550.2 L1088.4,550.3 L1089.4,550.4 L1090.4,550.6 L1091.4,550.7 L1092.4,550.8 L1093.4,551.0 L1094.4,551.1 L1095.4,551.2 L1096.4,551.4 L1097.4,551.5 L1098.4,551.6 L1099.4,551.7 L1100.4,551.9 L1101.4,552.0 L1102.4,552.1 L1103.4,552.2 L1104.4,552.3 L1105.4,552.5 L1106.4,552.6 L1107.4,552.7 L1108.4,552.8 L1109.4,552.9 L1110.4,553.0 L1111.4,553.1 L1112.4,553.2 L1113.4,553.3 L1114.4,553.4 L1115.4,553.5 L1116.4,553.6 L1117.4,553.7 L1118.4,553.8 L1119.4,553.9 L1120.4,554.0 L1121.4,554.1 L1122.4,554.2 L1123.4,554.3 L1124.4,554.4 L1125.4,554.5 L1126.4,554.6 L1127.4,554.7 L1128.4,554.8 L1129.4,554.9 L1130.4,554.9 L1131.4,555.0 L1132.4,555.1 L1133.4,555.2 L1134.4,555.3 L1135.4,555.4 L1136.4,555.4 L1137.4,555.5 L1138.4,555.6 L1139.4,555.7 L1140.4,555.8 L1141.4,555.8 L1142.4,555.9 L1143.4,556.0 L1144.4,556.1 L1145.4,556.1 L1146.4,556.2 L1147.4,556.3 L1148.4,556.4 L1149.4,556.4 L1150.4,556.5 L1151.4,556.6 L1152.4,556.6 L1153.4,556.7 L1154.4,556.8 L1155.4,556.8 L1156.4,556.9 L1157.4,557.0 L1158.4,557.0 L1159.4,557.1 L1160.4,557.1 L1161.4,557.2 L1162.4,557.3 L1163.4,557.3 L1164.4,557.4 L1165.4,557.4 L1166.4,557.5 L1167.4,557.6 L1168.4,557.6 L1169.4,557.7 L1170.4,557.7 L1171.4,557.8 L1172.4,557.8 L1173.4,557.9 L1174.4,557.9 L1175.4,558.0 L1176.4,558.0 L1177.4,558.1 L1178.4,558.1 L1179.4,558.2 L1180.4,558.2 L1181.4,558.2 L1182.4,558.3 L1183.4,558.3 L1184.4,558.4 L1185.4,558.4 L1186.4,558.4 L1187.4,558.5 L1188.4,558.5 L1189.4,558.5 L1190.4,558.6 L1191.4,558.6 L1192.4,558.6 L1193.4,558.7 L1194.4,558.7 L1195.4,558.7 L1196.4,558.8 L1197.4,558.8 L1198.4,558.8 L1199.4,558.9 L1200.4,558.9 L1201.4,558.9 L1202.4,559.0 L1203.4,559.0 L1204.4,559.0 L1205.4,559.1 L1206.4,559.1 L1207.4,559.1 L1208.4,559.1 L1209.4,559.2 L1210.4,559.2 L1211.4,559.2 L1212.4,559.2 L1213.4,559.3 L1214.4,559.3 L1215.4,559.3 L1216.4,559.4 L1217.4,559.4 L1218.4,559.4 L1219.4,559.4 L1220.4,559.5 L1221.4,559.5 L1222.4,559.5 L1223.4,559.5 L1224.4,559.5 L1225.4,559.5 L1226.4,559.6 L1227.4,559.6 L1228.4,559.6 L1229.4,559.6 L1230.4,559.6 L1231.4,559.6 L1232.4,559.6 L1233.4,559.6 L1234.4,559.7 L1235.4,559.7 L1236.4,559.7 L1237.4,559.7 L1238.4,559.7 L1239.4,559.7 L1240.4,559.7 L1241.4,559.7 L1242.4,559.7 L1243.4,559.7 L1244.4,559.7 L1245.4,559.8 L1246.4,559.8 L1247.4,559.8 L1248.4,559.8 L1249.4,559.8 L1250.4,559.8 L1251.4,559.8 L1252.4,559.8 L1253.4,559.8 L1254.4,559.8 L1255.4,559.8 L1256.4,559.8 L1257.4,559.8 L1258.4,559.9 L1259.4,559.9 L1260.4,559.9 L1261.4,559.9 L1262.4,559.9 L1263.4,559.9 L1264.4,559.9 L1265.4,559.9 L1266.4,559.9 L1267.4,559.9 L1268.4,559.9 L1269.4,559.9 L1270.4,559.9 L1271.4,559.9 L1272.4,559.9 L1273.4,559.9 L1274.4,559.9 L1275.4,559.9 L1276.4,559.9 L1277.4,559.9 L1278.4,559.9 L1279.4,559.9 L1280.4,559.9 L1281.4,559.9 L1282.4,559.9 L1283.4,559.9 L1284.4,559.9 L1285.4,560.0 L1286.4,560.0 L1287.4,560.0 L1288.4,560.0 L1289.4,560.0 L1290.4,560.0 L1291.4,560.0 L1292.4,560.0 L1293.4,560.0 L1294.4,560.0 L1295.4,560.0 L1296.4,560.0 L1297.4,560.0 L1298.4,560.0 L1299.4,560.0 L1300.4,560.0 L1301.4,560.0 L1302.4,560.0 L1303.4,560.0 L1304.4,560.0 L1305.4,560.0 L1306.4,560.0 L1307.4,560.0 L1308.4,560.0 L1309.4,560.0 L1310.4,560.0 L1311.4,559.9 L1312.4,559.9 L1313.4,559.9 L1314.4,559.9 L1315.4,559.9 L1316.4,559.9 L1317.4,559.9 L1318.4,559.9 L1319.4,559.9 L1320.4,559.9 L1321.4,559.9 L1322.4,559.9 L1323.4,559.9 L1324.4,559.9 L1325.4,559.9 L1326.4,559.9 L1327.4,559.9 L1328.4,559.9 L1329.4,559.9 L1330.4,559.9 L1331.4,559.9 L1332.4,559.9 L1333.4,559.9 L1334.4,559.9 L1335.4,559.9 L1336.4,559.9 L1337.4,559.9 L1338.4,559.9 L1339.4,559.9 L1340.4,559.9 L1341.4,559.9 L1342.4,559.9 L1343.4,559.8 L1344.4,559.8 L1345.4,559.8 L1346.4,559.8 L1347.4,559.8 L1348.4,559.8 L1349.4,559.8 L1350.4,559.8 L1351.4,559.8 L1352.4,559.8 L1353.4,559.8 L1354.4,559.8 L1355.4,559.8 L1356.4,559.8 L1357.4,559.8 L1358.4,559.8 L1359.4,559.8 L1360.4,559.8 L1361.4,559.7 L1362.4,559.7 L1363.4,559.7 L1364.4,559.7 L1365.4,559.7 L1366.4,559.7 L1367.4,559.7 L1368.4,559.7 L1369.4,559.7 L1370.4,559.7 L1371.4,559.7 L1372.4,559.7 L1373.4,559.7 L1374.4,559.7 L1375.4,559.7 L1376.4,559.7 L1377.4,559.6 L1378.4,559.6 L1379.4,559.6 L1380.4,559.6 L1381.4,559.6 L1382.4,559.6 L1383.4,559.6 L1384.4,559.6 L1385.4,559.6 L1386.4,559.6 L1387.4,559.6 L1388.4,559.6 L1389.4,559.6 L1390.4,559.5 L1391.4,559.5 L1392.4,559.5 L1393.4,559.5 L1394.4,559.5 L1395.4,559.5 L1396.1,559.5" fill="none" stroke="#e1303a" stroke-width="3.4" stroke-linejoin="round" stroke-linecap="round"/>
<rect x="208.2" y="338.5" width="1258.2" height="252.7" fill="none" stroke="#000" stroke-width="2.8"/>
<line x1="208.2" y1="591.2" x2="208.2" y2="608.2" stroke="#000" stroke-width="2.4"/>
<text x="208.2" y="647.3" font-size="37" text-anchor="middle">0.5</text>
<line x1="286.8" y1="591.2" x2="286.8" y2="599.7" stroke="#000" stroke-width="2.4"/>
<line x1="365.5" y1="591.2" x2="365.5" y2="608.2" stroke="#000" stroke-width="2.4"/>
<text x="365.5" y="647.3" font-size="37" text-anchor="middle">0.6</text>
<line x1="444.1" y1="591.2" x2="444.1" y2="599.7" stroke="#000" stroke-width="2.4"/>
<line x1="522.8" y1="591.2" x2="522.8" y2="608.2" stroke="#000" stroke-width="2.4"/>
<text x="522.8" y="647.3" font-size="37" text-anchor="middle">0.7</text>
<line x1="601.4" y1="591.2" x2="601.4" y2="599.7" stroke="#000" stroke-width="2.4"/>
<line x1="680.0" y1="591.2" x2="680.0" y2="608.2" stroke="#000" stroke-width="2.4"/>
<text x="680.0" y="647.3" font-size="37" text-anchor="middle">0.8</text>
<line x1="758.7" y1="591.2" x2="758.7" y2="599.7" stroke="#000" stroke-width="2.4"/>
<line x1="837.3" y1="591.2" x2="837.3" y2="608.2" stroke="#000" stroke-width="2.4"/>
<text x="837.3" y="647.3" font-size="37" text-anchor="middle">0.9</text>
<line x1="915.9" y1="591.2" x2="915.9" y2="599.7" stroke="#000" stroke-width="2.4"/>
<line x1="994.6" y1="591.2" x2="994.6" y2="608.2" stroke="#000" stroke-width="2.4"/>
<text x="994.6" y="647.3" font-size="37" text-anchor="middle">1.0</text>
<line x1="1073.2" y1="591.2" x2="1073.2" y2="599.7" stroke="#000" stroke-width="2.4"/>
<line x1="1151.9" y1="591.2" x2="1151.9" y2="608.2" stroke="#000" stroke-width="2.4"/>
<text x="1151.9" y="647.3" font-size="37" text-anchor="middle">1.1</text>
<line x1="1230.5" y1="591.2" x2="1230.5" y2="599.7" stroke="#000" stroke-width="2.4"/>
<line x1="1309.1" y1="591.2" x2="1309.1" y2="608.2" stroke="#000" stroke-width="2.4"/>
<text x="1309.1" y="647.3" font-size="37" text-anchor="middle">1.2</text>
<line x1="1387.8" y1="591.2" x2="1387.8" y2="599.7" stroke="#000" stroke-width="2.4"/>
<line x1="1466.4" y1="591.2" x2="1466.4" y2="608.2" stroke="#000" stroke-width="2.4"/>
<text x="1466.4" y="647.3" font-size="37" text-anchor="middle">1.3</text>
<line x1="191.2" y1="576.4" x2="208.2" y2="576.4" stroke="#000" stroke-width="2.4"/>
<text transform="translate(179.8,588.1) scale(1,1.05)" font-size="41" text-anchor="end">0</text>
<line x1="191.2" y1="518.2" x2="208.2" y2="518.2" stroke="#000" stroke-width="2.4"/>
<text transform="translate(179.8,529.6) scale(1,1.05)" font-size="41" text-anchor="end">10000</text>
<line x1="191.2" y1="460.1" x2="208.2" y2="460.1" stroke="#000" stroke-width="2.4"/>
<text transform="translate(179.8,471.0) scale(1,1.05)" font-size="41" text-anchor="end">20000</text>
<line x1="191.2" y1="401.9" x2="208.2" y2="401.9" stroke="#000" stroke-width="2.4"/>
<text transform="translate(179.8,412.6) scale(1,1.05)" font-size="41" text-anchor="end">30000</text>
<line x1="191.2" y1="343.8" x2="208.2" y2="343.8" stroke="#000" stroke-width="2.4"/>
<text transform="translate(179.8,353.9) scale(1,1.05)" font-size="41" text-anchor="end">40000</text>
<line x1="199.2" y1="547.3" x2="208.2" y2="547.3" stroke="#000" stroke-width="2.4"/>
<line x1="199.2" y1="489.2" x2="208.2" y2="489.2" stroke="#000" stroke-width="2.4"/>
<line x1="199.2" y1="431.0" x2="208.2" y2="431.0" stroke="#000" stroke-width="2.4"/>
<line x1="199.2" y1="372.9" x2="208.2" y2="372.9" stroke="#000" stroke-width="2.4"/>
<rect x="1182.6" y="352.0" width="266.8" height="128.8" fill="#fff" stroke="#222" stroke-width="1.4"/>
<line x1="1187.4" y1="385.8" x2="1300.0" y2="385.8" stroke="#404040" stroke-width="3.6"/>
<line x1="1187.4" y1="446.3" x2="1300.0" y2="446.3" stroke="#e1303a" stroke-width="3.6"/>
<text transform="translate(1310.7,402.6) scale(1,1.045)" font-size="48.5">Core 1</text>
<text transform="translate(1310.7,462.1) scale(1,1.045)" font-size="48.5">Core 2</text>
<text x="235.8" y="735.1" font-size="49.4" xml:space="preserve" fill="#000">n=1.39  T=20°C</text>
<path d="M370.0,916.3 L371.0,916.3 L372.0,916.3 L373.0,916.3 L374.0,916.3 L375.0,916.3 L376.0,916.3 L377.0,916.4 L378.0,916.4 L379.0,916.4 L380.0,916.4 L381.0,916.4 L382.0,916.4 L383.0,916.4 L384.0,916.4 L385.0,916.4 L386.0,916.4 L387.0,916.4 L388.0,916.4 L389.0,916.4 L390.0,916.4 L391.0,916.4 L392.0,916.5 L393.0,916.5 L394.0,916.5 L395.0,916.5 L396.0,916.5 L397.0,916.5 L398.0,916.5 L399.0,916.5 L400.0,916.5 L401.0,916.5 L402.0,916.5 L403.0,916.5 L404.0,916.5 L405.0,916.5 L406.0,916.5 L407.0,916.5 L408.0,916.5 L409.0,916.5 L410.0,916.6 L411.0,916.6 L412.0,916.6 L413.0,916.6 L414.0,916.6 L415.0,916.6 L416.0,916.6 L417.0,916.6 L418.0,916.6 L419.0,916.6 L420.0,916.6 L421.0,916.6 L422.0,916.6 L423.0,916.6 L424.0,916.6 L425.0,916.6 L426.0,916.6 L427.0,916.6 L428.0,916.6 L429.0,916.6 L430.0,916.6 L431.0,916.6 L432.0,916.6 L433.0,916.6 L434.0,916.6 L435.0,916.6 L436.0,916.6 L437.0,916.6 L438.0,916.6 L439.0,916.6 L440.0,916.6 L441.0,916.7 L442.0,916.7 L443.0,916.7 L444.0,916.7 L445.0,916.7 L446.0,916.7 L447.0,916.7 L448.0,916.7 L449.0,916.7 L450.0,916.7 L451.0,916.7 L452.0,916.7 L453.0,916.7 L454.0,916.7 L455.0,916.7 L456.0,916.7 L457.0,916.7 L458.0,916.7 L459.0,916.7 L460.0,916.7 L461.0,916.7 L462.0,916.6 L463.0,916.6 L464.0,916.6 L465.0,916.6 L466.0,916.6 L467.0,916.6 L468.0,916.6 L469.0,916.6 L470.0,916.6 L471.0,916.6 L472.0,916.6 L473.0,916.6 L474.0,916.6 L475.0,916.6 L476.0,916.6 L477.0,916.6 L478.0,916.6 L479.0,916.6 L480.0,916.6 L481.0,916.6 L482.0,916.6 L483.0,916.6 L484.0,916.6 L485.0,916.6 L486.0,916.6 L487.0,916.5 L488.0,916.5 L489.0,916.5 L490.0,916.5 L491.0,916.5 L492.0,916.5 L493.0,916.5 L494.0,916.5 L495.0,916.5 L496.0,916.5 L497.0,916.5 L498.0,916.5 L499.0,916.4 L500.0,916.4 L501.0,916.4 L502.0,916.4 L503.0,916.4 L504.0,916.4 L505.0,916.4 L506.0,916.3 L507.0,916.3 L508.0,916.2 L509.0,916.1 L510.0,915.9 L511.0,915.7 L512.0,915.4 L513.0,915.1 L514.0,914.8 L515.0,914.6 L516.0,914.4 L517.0,914.3 L518.0,914.2 L519.0,914.2 L520.0,914.1 L521.0,914.1 L522.0,914.0 L523.0,914.0 L524.0,913.9 L525.0,913.9 L526.0,913.8 L527.0,913.8 L528.0,913.7 L529.0,913.7 L530.0,913.6 L531.0,913.6 L532.0,913.5 L533.0,913.5 L534.0,913.4 L535.0,913.3 L536.0,913.3 L537.0,913.2 L538.0,913.2 L539.0,913.1 L540.0,913.1 L541.0,913.0 L542.0,912.9 L543.0,912.9 L544.0,912.8 L545.0,912.7 L546.0,912.7 L547.0,912.6 L548.0,912.6 L549.0,912.5 L550.0,912.4 L551.0,912.4 L552.0,912.3 L553.0,912.2 L554.0,912.2 L555.0,912.1 L556.0,912.0 L557.0,912.0 L558.0,911.9 L559.0,911.9 L560.0,911.9 L561.0,911.8 L562.0,911.8 L563.0,911.7 L564.0,911.7 L565.0,911.6 L566.0,911.6 L567.0,911.6 L568.0,911.5 L569.0,911.5 L570.0,911.4 L571.0,911.3 L572.0,911.3 L573.0,911.2 L574.0,911.2 L575.0,911.1 L576.0,911.1 L577.0,911.0 L578.0,910.9 L579.0,910.8 L580.0,910.7 L581.0,910.6 L582.0,910.5 L583.0,910.4 L584.0,910.2 L585.0,910.1 L586.0,909.9 L587.0,909.8 L588.0,909.6 L589.0,909.4 L590.0,909.3 L591.0,909.1 L592.0,909.0 L593.0,908.8 L594.0,908.6 L595.0,908.4 L596.0,908.3 L597.0,908.1 L598.0,907.9 L599.0,907.7 L600.0,907.5 L601.0,907.3 L602.0,907.1 L603.0,906.9 L604.0,906.8 L605.0,906.6 L606.0,906.4 L607.0,906.3 L608.0,906.1 L609.0,906.0 L610.0,905.8 L611.0,905.6 L612.0,905.5 L613.0,905.3 L614.0,905.1 L615.0,904.9 L616.0,904.7 L617.0,904.5 L618.0,904.3 L619.0,904.1 L620.0,903.9 L621.0,903.7 L622.0,903.4 L623.0,903.2 L624.0,903.0 L625.0,902.7 L626.0,902.4 L627.0,902.1 L628.0,901.8 L629.0,901.5 L630.0,901.1 L631.0,900.8 L632.0,900.4 L633.0,900.0 L634.0,899.5 L635.0,899.1 L636.0,898.7 L637.0,898.3 L638.0,897.8 L639.0,897.4 L640.0,897.0 L641.0,896.6 L642.0,896.2 L643.0,895.8 L644.0,895.5 L645.0,895.1 L646.0,894.7 L647.0,894.2 L648.0,893.8 L649.0,893.2 L650.0,892.6 L651.0,891.9 L652.0,891.1 L653.0,890.2 L654.0,889.3 L655.0,888.4 L656.0,887.4 L657.0,886.5 L658.0,885.6 L659.0,884.7 L660.0,883.9 L661.0,883.1 L662.0,882.3 L663.0,881.6 L664.0,880.8 L665.0,880.0 L666.0,879.2 L667.0,878.4 L668.0,877.6 L669.0,876.7 L670.0,875.9 L671.0,875.0 L672.0,874.1 L673.0,873.2 L674.0,872.2 L675.0,871.3 L676.0,870.4 L677.0,869.5 L678.0,868.5 L679.0,867.6 L680.0,866.7 L681.0,865.8 L682.0,864.9 L683.0,864.0 L684.0,863.1 L685.0,862.2 L686.0,861.3 L687.0,860.5 L688.0,859.6 L689.0,858.8 L690.0,858.1 L691.0,857.4 L692.0,856.7 L693.0,856.1 L694.0,855.6 L695.0,855.1 L696.0,854.6 L697.0,854.3 L698.0,854.0 L699.0,853.9 L700.0,853.8 L701.0,853.9 L702.0,854.0 L703.0,854.3 L704.0,854.7 L705.0,855.1 L706.0,855.6 L707.0,856.2 L708.0,856.7 L709.0,857.4 L710.0,858.0 L711.0,858.7 L712.0,859.4 L713.0,860.1 L714.0,860.8 L715.0,861.6 L716.0,862.4 L717.0,863.2 L718.0,863.9 L719.0,864.7 L720.0,865.5 L721.0,866.3 L722.0,867.1 L723.0,867.9 L724.0,868.7 L725.0,869.4 L726.0,870.2 L727.0,870.9 L728.0,871.6 L729.0,872.3 L730.0,873.0 L731.0,873.6 L732.0,874.3 L733.0,874.9 L734.0,875.6 L735.0,876.3 L736.0,876.9 L737.0,877.6 L738.0,878.3 L739.0,879.0 L740.0,879.7 L741.0,880.4 L742.0,881.0 L743.0,881.7 L744.0,882.3 L745.0,883.0 L746.0,883.6 L747.0,884.2 L748.0,884.8 L749.0,885.4 L750.0,885.9 L751.0,886.5 L752.0,887.0 L753.0,887.6 L754.0,888.1 L755.0,888.6 L756.0,889.1 L757.0,889.6 L758.0,890.1 L759.0,890.5 L760.0,891.0 L761.0,891.4 L762.0,891.8 L763.0,892.2 L764.0,892.6 L765.0,892.9 L766.0,893.3 L767.0,893.7 L768.0,894.0 L769.0,894.3 L770.0,894.7 L771.0,895.0 L772.0,895.3 L773.0,895.6 L774.0,895.9 L775.0,896.2 L776.0,896.5 L777.0,896.7 L778.0,897.0 L779.0,897.3 L780.0,897.5 L781.0,897.8 L782.0,898.0 L783.0,898.2 L784.0,898.4 L785.0,898.6 L786.0,898.8 L787.0,898.9 L788.0,899.1 L789.0,899.2 L790.0,899.3 L791.0,899.5 L792.0,899.6 L793.0,899.7 L794.0,899.8 L795.0,899.9 L796.0,900.0 L797.0,900.1 L798.0,900.2 L799.0,900.3 L800.0,900.4 L801.0,900.5 L802.0,900.6 L803.0,900.6 L804.0,900.7 L805.0,900.8 L806.0,900.9 L807.0,900.9 L808.0,901.0 L809.0,901.1 L810.0,901.2 L811.0,901.4 L812.0,901.5 L813.0,901.7 L814.0,901.8 L815.0,902.0 L816.0,902.2 L817.0,902.3 L818.0,902.5 L819.0,902.6 L820.0,902.8 L821.0,903.0 L822.0,903.1 L823.0,903.3 L824.0,903.4 L825.0,903.6 L826.0,903.7 L827.0,903.9 L828.0,904.0 L829.0,904.2 L830.0,904.3 L831.0,904.5 L832.0,904.6 L833.0,904.8 L834.0,904.9 L835.0,905.1 L836.0,905.2 L837.0,905.4 L838.0,905.5 L839.0,905.7 L840.0,905.8 L841.0,905.9 L842.0,906.1 L843.0,906.2 L844.0,906.3 L845.0,906.4 L846.0,906.5 L847.0,906.6 L848.0,906.7 L849.0,906.8 L850.0,906.9 L851.0,907.0 L852.0,907.0 L853.0,907.1 L854.0,907.2 L855.0,907.3 L856.0,907.3 L857.0,907.4 L858.0,907.5 L859.0,907.5 L860.0,907.6 L861.0,907.7 L862.0,907.7 L863.0,907.8 L864.0,907.8 L865.0,907.9 L866.0,908.0 L867.0,908.0 L868.0,908.1 L869.0,908.1 L870.0,908.2 L871.0,908.2 L872.0,908.2 L873.0,908.3 L874.0,908.3 L875.0,908.3 L876.0,908.3 L877.0,908.3 L878.0,908.3 L879.0,908.4 L880.0,908.4 L881.0,908.4 L882.0,908.4 L883.0,908.4 L884.0,908.4 L885.0,908.4 L886.0,908.5 L887.0,908.5 L888.0,908.5 L889.0,908.5 L890.0,908.5 L891.0,908.5 L892.0,908.5 L893.0,908.5 L894.0,908.5 L895.0,908.5 L896.0,908.5 L897.0,908.6 L898.0,908.6 L899.0,908.6 L900.0,908.6 L901.0,908.6 L902.0,908.6 L903.0,908.6 L904.0,908.6 L905.0,908.6 L906.0,908.6 L907.0,908.6 L908.0,908.6 L909.0,908.6 L910.0,908.6 L911.0,908.6 L912.0,908.6 L913.0,908.6 L914.0,908.6 L915.0,908.6 L916.0,908.6 L917.0,908.6 L918.0,908.7 L919.0,908.7 L920.0,908.7 L921.0,908.7 L922.0,908.7 L923.0,908.7 L924.0,908.7 L925.0,908.8 L926.0,908.8 L927.0,908.8 L928.0,908.8 L929.0,908.8 L930.0,908.8 L931.0,908.8 L932.0,908.8 L933.0,908.9 L934.0,908.9 L935.0,908.9 L936.0,908.9 L937.0,908.9 L938.0,908.9 L939.0,908.9 L940.0,908.9 L941.0,908.9 L942.0,908.9 L943.0,909.0 L944.0,909.0 L945.0,909.0 L946.0,909.0 L947.0,909.0 L948.0,909.0 L949.0,909.0 L950.0,909.0 L951.0,909.0 L952.0,909.0 L953.0,909.0 L954.0,909.0 L955.0,909.0 L956.0,909.1 L957.0,909.1 L958.0,909.1 L959.0,909.1 L960.0,909.1 L961.0,909.1 L962.0,909.1 L963.0,909.1 L964.0,909.1 L965.0,909.1 L966.0,909.1 L967.0,909.1 L968.0,909.1 L969.0,909.1 L970.0,909.1 L971.0,909.1 L972.0,909.1 L973.0,909.1 L974.0,909.1 L975.0,909.1 L976.0,909.1 L977.0,909.2 L978.0,909.2 L979.0,909.2 L980.0,909.2 L981.0,909.2 L982.0,909.2 L983.0,909.2 L984.0,909.2 L985.0,909.2 L986.0,909.2 L987.0,909.2 L988.0,909.2 L989.0,909.2 L990.0,909.2 L991.0,909.2 L992.0,909.2 L993.0,909.2 L994.0,909.2 L995.0,909.2 L996.0,909.2 L997.0,909.2 L998.0,909.2 L999.0,909.2 L1000.0,909.2 L1001.0,909.2 L1002.0,909.2 L1003.0,909.2 L1004.0,909.2 L1005.0,909.2 L1006.0,909.2 L1007.0,909.2 L1008.0,909.2 L1009.0,909.2 L1010.0,909.2 L1011.0,909.3 L1012.0,909.3 L1013.0,909.3 L1014.0,909.3 L1015.0,909.3 L1016.0,909.3 L1017.0,909.3 L1018.0,909.3 L1019.0,909.3 L1020.0,909.3 L1021.0,909.3 L1022.0,909.3 L1023.0,909.3 L1024.0,909.3 L1025.0,909.3 L1026.0,909.3 L1027.0,909.3 L1028.0,909.3 L1029.0,909.3 L1030.0,909.3 L1031.0,909.3 L1032.0,909.3 L1033.0,909.3 L1034.0,909.3 L1035.0,909.3 L1036.0,909.3 L1037.0,909.3 L1038.0,909.4 L1039.0,909.4 L1040.0,909.4 L1041.0,909.4 L1042.0,909.4 L1043.0,909.4 L1044.0,909.4 L1045.0,909.4 L1046.0,909.4 L1047.0,909.4 L1048.0,909.4 L1049.0,909.4 L1050.0,909.4 L1051.0,909.4 L1052.0,909.4 L1053.0,909.4 L1054.0,909.4 L1055.0,909.4 L1056.0,909.4 L1057.0,909.4 L1058.0,909.4 L1059.0,909.4 L1060.0,909.4 L1061.0,909.4 L1062.0,909.4 L1063.0,909.4 L1064.0,909.4 L1065.0,909.4 L1066.0,909.4 L1067.0,909.4 L1068.0,909.4 L1069.0,909.4 L1070.0,909.4 L1071.0,909.4 L1072.0,909.4 L1073.0,909.4 L1074.0,909.4 L1075.0,909.4 L1076.0,909.4 L1077.0,909.4 L1078.0,909.4 L1079.0,909.4 L1080.0,909.4 L1081.0,909.4 L1082.0,909.4 L1083.0,909.4 L1084.0,909.4 L1085.0,909.4 L1086.0,909.4 L1087.0,909.4 L1088.0,909.4 L1089.0,909.4 L1090.0,909.4 L1091.0,909.4 L1092.0,909.5 L1093.0,909.5 L1094.0,909.5 L1095.0,909.5 L1096.0,909.5 L1097.0,909.5 L1098.0,909.5 L1099.0,909.5 L1100.0,909.5 L1101.0,909.5 L1102.0,909.5 L1103.0,909.5 L1104.0,909.5 L1105.0,909.5 L1106.0,909.5 L1107.0,909.5 L1108.0,909.5 L1109.0,909.5 L1110.0,909.5 L1111.0,909.5 L1112.0,909.5 L1113.0,909.5 L1114.0,909.5 L1115.0,909.5 L1116.0,909.5 L1117.0,909.5 L1118.0,909.5 L1119.0,909.5 L1120.0,909.5 L1121.0,909.5 L1122.0,909.5 L1123.0,909.5 L1124.0,909.5 L1125.0,909.5 L1126.0,909.5 L1127.0,909.5 L1128.0,909.5 L1129.0,909.5 L1130.0,909.5 L1131.0,909.5 L1132.0,909.5 L1133.0,909.5 L1134.0,909.5 L1135.0,909.5 L1136.0,909.5 L1137.0,909.5 L1138.0,909.5 L1139.0,909.5 L1140.0,909.5 L1141.0,909.5 L1142.0,909.5 L1143.0,909.5 L1144.0,909.5 L1145.0,909.5 L1146.0,909.5 L1147.0,909.5 L1148.0,909.5 L1149.0,909.5 L1150.0,909.5 L1151.0,909.5 L1152.0,909.5 L1153.0,909.5 L1154.0,909.5 L1155.0,909.5 L1156.0,909.5 L1157.0,909.5 L1158.0,909.5 L1159.0,909.5 L1160.0,909.5 L1161.0,909.5 L1162.0,909.5 L1163.0,909.5 L1164.0,909.5 L1165.0,909.5 L1166.0,909.5 L1167.0,909.5 L1168.0,909.5 L1169.0,909.5 L1170.0,909.5 L1171.0,909.5 L1172.0,909.5 L1173.0,909.5 L1174.0,909.5 L1175.0,909.5 L1176.0,909.5 L1177.0,909.5 L1178.0,909.5 L1179.0,909.5 L1180.0,909.5 L1181.0,909.5 L1182.0,909.5 L1183.0,909.5 L1184.0,909.5 L1185.0,909.5 L1186.0,909.5 L1187.0,909.5 L1188.0,909.5 L1189.0,909.5 L1190.0,909.5 L1191.0,909.5 L1192.0,909.5 L1193.0,909.5 L1194.0,909.5 L1195.0,909.5 L1196.0,909.5 L1197.0,909.5 L1198.0,909.5 L1199.0,909.5 L1200.0,909.5 L1201.0,909.5 L1202.0,909.5 L1203.0,909.5 L1204.0,909.5 L1205.0,909.5 L1206.0,909.5 L1207.0,909.5 L1208.0,909.5 L1209.0,909.5 L1210.0,909.5 L1211.0,909.5 L1212.0,909.5 L1213.0,909.5 L1214.0,909.5 L1215.0,909.5 L1216.0,909.5 L1217.0,909.5 L1218.0,909.5 L1219.0,909.5 L1220.0,909.5 L1221.0,909.5 L1222.0,909.5 L1223.0,909.5 L1224.0,909.5 L1225.0,909.5 L1226.0,909.5 L1227.0,909.5 L1228.0,909.5 L1229.0,909.5 L1230.0,909.5 L1231.0,909.5 L1232.0,909.5 L1233.0,909.5 L1234.0,909.5 L1235.0,909.5 L1236.0,909.5 L1237.0,909.5 L1238.0,909.4 L1239.0,909.3 L1240.0,909.1 L1241.0,908.8 L1242.0,908.5 L1243.0,908.2 L1244.0,907.9 L1245.0,907.7 L1246.0,907.5 L1247.0,907.5 L1248.0,907.4 L1249.0,907.4 L1250.0,907.4 L1251.0,907.4 L1252.0,907.4 L1253.0,907.4 L1254.0,907.4 L1255.0,907.4 L1256.0,907.4 L1257.0,907.4 L1258.0,907.4 L1259.0,907.4 L1260.0,907.4 L1261.0,907.4 L1262.0,907.4 L1263.0,907.4 L1264.0,907.4 L1265.0,907.4 L1266.0,907.4 L1267.0,907.4 L1268.0,907.4 L1269.0,907.4 L1270.0,907.4 L1271.0,907.4 L1272.0,907.4 L1273.0,907.4 L1274.0,907.4 L1275.0,907.4 L1276.0,907.4 L1277.0,907.4 L1278.0,907.4 L1279.0,907.4 L1280.0,907.4 L1281.0,907.4 L1282.0,907.4 L1283.0,907.4 L1284.0,907.4 L1285.0,907.4 L1286.0,907.4 L1287.0,907.4 L1288.0,907.4 L1289.0,907.4 L1290.0,907.4 L1291.0,907.4 L1292.0,907.4 L1293.0,907.4 L1294.0,907.4 L1295.0,907.4 L1296.0,907.4 L1297.0,907.4 L1298.0,907.4 L1299.0,907.4 L1300.0,907.4 L1301.0,907.4 L1302.0,907.4 L1303.0,907.4 L1304.0,907.4 L1305.0,907.4 L1306.0,907.4 L1307.0,907.4 L1308.0,907.4 L1309.0,907.4 L1310.0,907.4 L1311.0,907.4 L1312.0,907.4 L1313.0,907.4 L1314.0,907.4 L1315.0,907.4 L1316.0,907.4 L1317.0,907.4 L1318.0,907.4 L1319.0,907.4 L1320.0,907.4 L1321.0,907.4 L1322.0,907.4 L1323.0,907.4 L1324.0,907.4 L1325.0,907.4 L1326.0,907.4 L1327.0,907.4 L1328.0,907.4 L1329.0,907.4 L1330.0,907.4 L1331.0,907.4 L1332.0,907.4 L1333.0,907.4 L1334.0,907.4 L1335.0,907.4 L1336.0,907.4 L1337.0,907.4 L1338.0,907.4 L1339.0,907.4 L1340.0,907.4 L1341.0,907.4 L1342.0,907.4 L1343.0,907.3 L1344.0,907.3 L1345.0,907.2 L1346.0,907.1 L1347.0,906.9 L1348.0,906.8 L1349.0,906.7 L1350.0,906.6 L1351.0,906.6 L1352.0,906.5 L1353.0,906.5 L1354.0,906.5 L1355.0,906.5 L1356.0,906.5 L1357.0,906.5 L1358.0,906.5 L1359.0,906.5 L1360.0,906.5 L1361.0,906.5 L1362.0,906.5 L1363.0,906.5 L1364.0,906.5 L1365.0,906.5 L1366.0,906.5 L1367.0,906.5 L1368.0,906.5 L1369.0,906.5 L1370.0,906.5 L1371.0,906.5 L1372.0,906.5 L1373.0,906.5 L1374.0,906.5 L1375.0,906.5 L1376.0,906.5 L1377.0,906.5 L1378.0,906.5" fill="none" stroke="#404040" stroke-width="3.4" stroke-linejoin="round" stroke-linecap="round"/>
<path d="M527.2,915.6 L528.2,915.6 L529.2,915.6 L530.2,915.6 L531.2,915.6 L532.2,915.6 L533.2,915.6 L534.2,915.6 L535.2,915.6 L536.2,915.6 L537.2,915.6 L538.2,915.6 L539.2,915.6 L540.2,915.6 L541.2,915.6 L542.2,915.6 L543.2,915.6 L544.2,915.6 L545.2,915.6 L546.2,915.7 L547.2,915.7 L548.2,915.7 L549.2,915.7 L550.2,915.7 L551.2,915.7 L552.2,915.7 L553.2,915.7 L554.2,915.7 L555.2,915.7 L556.2,915.7 L557.2,915.7 L558.2,915.7 L559.2,915.7 L560.2,915.7 L561.2,915.7 L562.2,915.7 L563.2,915.7 L564.2,915.7 L565.2,915.7 L566.2,915.7 L567.2,915.7 L568.2,915.7 L569.2,915.7 L570.2,915.7 L571.2,915.7 L572.2,915.7 L573.2,915.7 L574.2,915.7 L575.2,915.7 L576.2,915.7 L577.2,915.7 L578.2,915.7 L579.2,915.7 L580.2,915.7 L581.2,915.7 L582.2,915.7 L583.2,915.6 L584.2,915.6 L585.2,915.6 L586.2,915.6 L587.2,915.6 L588.2,915.6 L589.2,915.6 L590.2,915.6 L591.2,915.6 L592.2,915.6 L593.2,915.6 L594.2,915.6 L595.2,915.6 L596.2,915.6 L597.2,915.6 L598.2,915.6 L599.2,915.6 L600.2,915.6 L601.2,915.6 L602.2,915.6 L603.2,915.6 L604.2,915.6 L605.2,915.6 L606.2,915.6 L607.2,915.6 L608.2,915.6 L609.2,915.5 L610.2,915.5 L611.2,915.5 L612.2,915.5 L613.2,915.5 L614.2,915.5 L615.2,915.5 L616.2,915.5 L617.2,915.5 L618.2,915.5 L619.2,915.5 L620.2,915.5 L621.2,915.5 L622.2,915.5 L623.2,915.4 L624.2,915.4 L625.2,915.4 L626.2,915.4 L627.2,915.4 L628.2,915.4 L629.2,915.4 L630.2,915.4 L631.2,915.4 L632.2,915.4 L633.2,915.3 L634.2,915.3 L635.2,915.3 L636.2,915.3 L637.2,915.3 L638.2,915.3 L639.2,915.3 L640.2,915.3 L641.2,915.3 L642.2,915.2 L643.2,915.2 L644.2,915.2 L645.2,915.2 L646.2,915.2 L647.2,915.2 L648.2,915.2 L649.2,915.2 L650.2,915.1 L651.2,915.1 L652.2,915.1 L653.2,915.1 L654.2,915.1 L655.2,915.1 L656.2,915.0 L657.2,915.0 L658.2,915.0 L659.2,915.0 L660.2,915.0 L661.2,915.0 L662.2,914.9 L663.2,914.9 L664.2,914.9 L665.2,914.9 L666.2,914.9 L667.2,914.8 L668.2,914.8 L669.2,914.8 L670.2,914.8 L671.2,914.8 L672.2,914.7 L673.2,914.7 L674.2,914.7 L675.2,914.7 L676.2,914.6 L677.2,914.6 L678.2,914.6 L679.2,914.6 L680.2,914.5 L681.2,914.5 L682.2,914.5 L683.2,914.4 L684.2,914.4 L685.2,914.4 L686.2,914.3 L687.2,914.3 L688.2,914.3 L689.2,914.3 L690.2,914.2 L691.2,914.2 L692.2,914.2 L693.2,914.1 L694.2,914.1 L695.2,914.1 L696.2,914.0 L697.2,914.0 L698.2,914.0 L699.2,913.9 L700.2,913.9 L701.2,913.8 L702.2,913.8 L703.2,913.8 L704.2,913.7 L705.2,913.7 L706.2,913.7 L707.2,913.6 L708.2,913.6 L709.2,913.5 L710.2,913.5 L711.2,913.4 L712.2,913.4 L713.2,913.4 L714.2,913.3 L715.2,913.3 L716.2,913.2 L717.2,913.2 L718.2,913.1 L719.2,913.1 L720.2,913.0 L721.2,913.0 L722.2,912.9 L723.2,912.9 L724.2,912.8 L725.2,912.8 L726.2,912.7 L727.2,912.7 L728.2,912.6 L729.2,912.6 L730.2,912.5 L731.2,912.5 L732.2,912.4 L733.2,912.4 L734.2,912.3 L735.2,912.3 L736.2,912.2 L737.2,912.1 L738.2,912.1 L739.2,912.0 L740.2,912.0 L741.2,911.9 L742.2,911.8 L743.2,911.7 L744.2,911.7 L745.2,911.6 L746.2,911.5 L747.2,911.4 L748.2,911.3 L749.2,911.2 L750.2,911.1 L751.2,910.9 L752.2,910.8 L753.2,910.7 L754.2,910.6 L755.2,910.5 L756.2,910.3 L757.2,910.2 L758.2,910.1 L759.2,910.0 L760.2,909.8 L761.2,909.7 L762.2,909.6 L763.2,909.4 L764.2,909.3 L765.2,909.2 L766.2,909.0 L767.2,908.9 L768.2,908.7 L769.2,908.6 L770.2,908.5 L771.2,908.3 L772.2,908.2 L773.2,908.0 L774.2,907.9 L775.2,907.7 L776.2,907.6 L777.2,907.4 L778.2,907.2 L779.2,907.1 L780.2,906.9 L781.2,906.8 L782.2,906.6 L783.2,906.5 L784.2,906.4 L785.2,906.2 L786.2,906.1 L787.2,906.0 L788.2,905.9 L789.2,905.8 L790.2,905.7 L791.2,905.6 L792.2,905.5 L793.2,905.4 L794.2,905.2 L795.2,905.1 L796.2,905.0 L797.2,904.9 L798.2,904.8 L799.2,904.6 L800.2,904.5 L801.2,904.4 L802.2,904.2 L803.2,904.1 L804.2,904.0 L805.2,903.8 L806.2,903.7 L807.2,903.5 L808.2,903.4 L809.2,903.2 L810.2,903.0 L811.2,902.9 L812.2,902.7 L813.2,902.5 L814.2,902.4 L815.2,902.2 L816.2,902.0 L817.2,901.8 L818.2,901.6 L819.2,901.5 L820.2,901.3 L821.2,901.1 L822.2,901.0 L823.2,900.8 L824.2,900.7 L825.2,900.5 L826.2,900.3 L827.2,900.1 L828.2,899.9 L829.2,899.6 L830.2,899.3 L831.2,899.0 L832.2,898.6 L833.2,898.2 L834.2,897.7 L835.2,897.3 L836.2,896.8 L837.2,896.4 L838.2,895.9 L839.2,895.4 L840.2,894.9 L841.2,894.4 L842.2,893.9 L843.2,893.4 L844.2,892.9 L845.2,892.4 L846.2,891.9 L847.2,891.4 L848.2,890.9 L849.2,890.4 L850.2,889.8 L851.2,889.3 L852.2,888.7 L853.2,888.2 L854.2,887.6 L855.2,887.0 L856.2,886.4 L857.2,885.8 L858.2,885.2 L859.2,884.5 L860.2,883.9 L861.2,883.2 L862.2,882.6 L863.2,881.9 L864.2,881.2 L865.2,880.5 L866.2,879.7 L867.2,879.0 L868.2,878.2 L869.2,877.5 L870.2,876.7 L871.2,875.9 L872.2,875.1 L873.2,874.2 L874.2,873.4 L875.2,872.5 L876.2,871.6 L877.2,870.7 L878.2,869.8 L879.2,868.8 L880.2,867.9 L881.2,867.0 L882.2,866.0 L883.2,865.0 L884.2,864.0 L885.2,863.0 L886.2,862.0 L887.2,860.9 L888.2,859.8 L889.2,858.7 L890.2,857.6 L891.2,856.4 L892.2,855.2 L893.2,853.9 L894.2,852.7 L895.2,851.4 L896.2,850.0 L897.2,848.7 L898.2,847.3 L899.2,845.8 L900.2,844.4 L901.2,843.0 L902.2,841.6 L903.2,840.1 L904.2,838.7 L905.2,837.2 L906.2,835.7 L907.2,834.0 L908.2,832.3 L909.2,830.5 L910.2,828.5 L911.2,826.5 L912.2,824.4 L913.2,822.3 L914.2,820.1 L915.2,817.8 L916.2,815.6 L917.2,813.3 L918.2,811.0 L919.2,808.6 L920.2,806.3 L921.2,803.9 L922.2,801.5 L923.2,799.0 L924.2,796.5 L925.2,794.0 L926.2,791.5 L927.2,789.0 L928.2,786.6 L929.2,784.3 L930.2,782.1 L931.2,780.0 L932.2,778.2 L933.2,776.5 L934.2,774.9 L935.2,773.5 L936.2,772.3 L937.2,771.4 L938.2,770.7 L939.2,770.7 L940.2,771.1 L941.2,771.7 L942.2,772.5 L943.2,773.5 L944.2,774.7 L945.2,776.1 L946.2,777.6 L947.2,779.3 L948.2,781.1 L949.2,783.1 L950.2,785.1 L951.2,787.1 L952.2,789.2 L953.2,791.3 L954.2,793.4 L955.2,795.5 L956.2,797.7 L957.2,799.7 L958.2,801.8 L959.2,803.9 L960.2,805.9 L961.2,807.9 L962.2,809.8 L963.2,811.7 L964.2,813.6 L965.2,815.4 L966.2,817.2 L967.2,818.9 L968.2,820.7 L969.2,822.3 L970.2,824.0 L971.2,825.6 L972.2,827.2 L973.2,828.7 L974.2,830.2 L975.2,831.7 L976.2,833.1 L977.2,834.5 L978.2,835.8 L979.2,837.1 L980.2,838.3 L981.2,839.4 L982.2,840.5 L983.2,841.6 L984.2,842.6 L985.2,843.6 L986.2,844.6 L987.2,845.5 L988.2,846.4 L989.2,847.3 L990.2,848.2 L991.2,849.1 L992.2,849.9 L993.2,850.8 L994.2,851.7 L995.2,852.6 L996.2,853.4 L997.2,854.3 L998.2,855.1 L999.2,855.9 L1000.2,856.7 L1001.2,857.5 L1002.2,858.2 L1003.2,858.9 L1004.2,859.7 L1005.2,860.4 L1006.2,861.0 L1007.2,861.7 L1008.2,862.3 L1009.2,863.0 L1010.2,863.6 L1011.2,864.2 L1012.2,864.8 L1013.2,865.4 L1014.2,866.0 L1015.2,866.6 L1016.2,867.2 L1017.2,867.8 L1018.2,868.4 L1019.2,869.0 L1020.2,869.6 L1021.2,870.1 L1022.2,870.7 L1023.2,871.3 L1024.2,871.8 L1025.2,872.3 L1026.2,872.8 L1027.2,873.4 L1028.2,873.9 L1029.2,874.4 L1030.2,874.8 L1031.2,875.3 L1032.2,875.8 L1033.2,876.3 L1034.2,876.7 L1035.2,877.2 L1036.2,877.6 L1037.2,878.0 L1038.2,878.5 L1039.2,878.9 L1040.2,879.3 L1041.2,879.7 L1042.2,880.1 L1043.2,880.4 L1044.2,880.8 L1045.2,881.1 L1046.2,881.5 L1047.2,881.8 L1048.2,882.1 L1049.2,882.4 L1050.2,882.7 L1051.2,883.0 L1052.2,883.2 L1053.2,883.5 L1054.2,883.8 L1055.2,884.0 L1056.2,884.3 L1057.2,884.6 L1058.2,884.8 L1059.2,885.1 L1060.2,885.3 L1061.2,885.5 L1062.2,885.8 L1063.2,886.0 L1064.2,886.2 L1065.2,886.5 L1066.2,886.7 L1067.2,886.9 L1068.2,887.1 L1069.2,887.3 L1070.2,887.5 L1071.2,887.8 L1072.2,887.9 L1073.2,888.1 L1074.2,888.3 L1075.2,888.5 L1076.2,888.6 L1077.2,888.8 L1078.2,888.9 L1079.2,889.1 L1080.2,889.2 L1081.2,889.4 L1082.2,889.5 L1083.2,889.6 L1084.2,889.8 L1085.2,889.9 L1086.2,890.0 L1087.2,890.2 L1088.2,890.3 L1089.2,890.4 L1090.2,890.6 L1091.2,890.7 L1092.2,890.8 L1093.2,891.0 L1094.2,891.1 L1095.2,891.3 L1096.2,891.4 L1097.2,891.5 L1098.2,891.7 L1099.2,891.8 L1100.2,892.0 L1101.2,892.1 L1102.2,892.2 L1103.2,892.3 L1104.2,892.5 L1105.2,892.6 L1106.2,892.7 L1107.2,892.8 L1108.2,893.0 L1109.2,893.1 L1110.2,893.2 L1111.2,893.3 L1112.2,893.4 L1113.2,893.6 L1114.2,893.7 L1115.2,893.8 L1116.2,893.9 L1117.2,894.0 L1118.2,894.1 L1119.2,894.2 L1120.2,894.3 L1121.2,894.4 L1122.2,894.5 L1123.2,894.6 L1124.2,894.7 L1125.2,894.8 L1126.2,894.9 L1127.2,895.0 L1128.2,895.1 L1129.2,895.2 L1130.2,895.3 L1131.2,895.4 L1132.2,895.5 L1133.2,895.6 L1134.2,895.7 L1135.2,895.8 L1136.2,895.9 L1137.2,896.0 L1138.2,896.0 L1139.2,896.1 L1140.2,896.2 L1141.2,896.3 L1142.2,896.4 L1143.2,896.4 L1144.2,896.5 L1145.2,896.6 L1146.2,896.6 L1147.2,896.7 L1148.2,896.7 L1149.2,896.8 L1150.2,896.9 L1151.2,896.9 L1152.2,897.0 L1153.2,897.0 L1154.2,897.1 L1155.2,897.1 L1156.2,897.2 L1157.2,897.2 L1158.2,897.3 L1159.2,897.4 L1160.2,897.4 L1161.2,897.5 L1162.2,897.5 L1163.2,897.6 L1164.2,897.6 L1165.2,897.7 L1166.2,897.7 L1167.2,897.8 L1168.2,897.8 L1169.2,897.8 L1170.2,897.9 L1171.2,897.9 L1172.2,898.0 L1173.2,898.0 L1174.2,898.1 L1175.2,898.1 L1176.2,898.2 L1177.2,898.2 L1178.2,898.2 L1179.2,898.3 L1180.2,898.3 L1181.2,898.4 L1182.2,898.4 L1183.2,898.5 L1184.2,898.5 L1185.2,898.5 L1186.2,898.6 L1187.2,898.6 L1188.2,898.6 L1189.2,898.7 L1190.2,898.7 L1191.2,898.8 L1192.2,898.8 L1193.2,898.8 L1194.2,898.9 L1195.2,898.9 L1196.2,898.9 L1197.2,899.0 L1198.2,899.0 L1199.2,899.0 L1200.2,899.1 L1201.2,899.1 L1202.2,899.1 L1203.2,899.1 L1204.2,899.2 L1205.2,899.2 L1206.2,899.2 L1207.2,899.3 L1208.2,899.3 L1209.2,899.3 L1210.2,899.3 L1211.2,899.4 L1212.2,899.4 L1213.2,899.4 L1214.2,899.5 L1215.2,899.5 L1216.2,899.5 L1217.2,899.5 L1218.2,899.6 L1219.2,899.6 L1220.2,899.6 L1221.2,899.6 L1222.2,899.7 L1223.2,899.7 L1224.2,899.7 L1225.2,899.7 L1226.2,899.8 L1227.2,899.8 L1228.2,899.8 L1229.2,899.8 L1230.2,899.8 L1231.2,899.9 L1232.2,899.9 L1233.2,899.9 L1234.2,899.9 L1235.2,900.0 L1236.2,900.0 L1237.2,900.0 L1238.2,900.0 L1239.2,900.0 L1240.2,900.1 L1241.2,900.1 L1242.2,900.1 L1243.2,900.1 L1244.2,900.1 L1245.2,900.2 L1246.2,900.2 L1247.2,900.2 L1248.2,900.2 L1249.2,900.2 L1250.2,900.3 L1251.2,900.3 L1252.2,900.3 L1253.2,900.3 L1254.2,900.3 L1255.2,900.3 L1256.2,900.4 L1257.2,900.4 L1258.2,900.4 L1259.2,900.4 L1260.2,900.4 L1261.2,900.4 L1262.2,900.5 L1263.2,900.5 L1264.2,900.5 L1265.2,900.5 L1266.2,900.5 L1267.2,900.5 L1268.2,900.5 L1269.2,900.5 L1270.2,900.5 L1271.2,900.5 L1272.2,900.5 L1273.2,900.5 L1274.2,900.6 L1275.2,900.6 L1276.2,900.6 L1277.2,900.6 L1278.2,900.6 L1279.2,900.6 L1280.2,900.6 L1281.2,900.6 L1282.2,900.6 L1283.2,900.6 L1284.2,900.6 L1285.2,900.6 L1286.2,900.6 L1287.2,900.6 L1288.2,900.6 L1289.2,900.6 L1290.2,900.6 L1291.2,900.6 L1292.2,900.6 L1293.2,900.6 L1294.2,900.6 L1295.2,900.6 L1296.2,900.6 L1297.2,900.6 L1298.2,900.6 L1299.2,900.6 L1300.2,900.6 L1301.2,900.6 L1302.2,900.6 L1303.2,900.6 L1304.2,900.6 L1305.2,900.6 L1306.2,900.6 L1307.2,900.7 L1308.2,900.7 L1309.2,900.7 L1310.2,900.7 L1311.2,900.7 L1312.2,900.7 L1313.2,900.7 L1314.2,900.7 L1315.2,900.7 L1316.2,900.7 L1317.2,900.7 L1318.2,900.7 L1319.2,900.7 L1320.2,900.7 L1321.2,900.7 L1322.2,900.7 L1323.2,900.7 L1324.2,900.7 L1325.2,900.7 L1326.2,900.7 L1327.2,900.6 L1328.2,900.6 L1329.2,900.6 L1330.2,900.6 L1331.2,900.6 L1332.2,900.6 L1333.2,900.6 L1334.2,900.6 L1335.2,900.6 L1336.2,900.6 L1337.2,900.6 L1338.2,900.6 L1339.2,900.6 L1340.2,900.6 L1341.2,900.6 L1342.2,900.6 L1343.2,900.6 L1344.2,900.6 L1345.2,900.6 L1346.2,900.6 L1347.2,900.6 L1348.2,900.6 L1349.2,900.6 L1350.2,900.6 L1351.2,900.6 L1352.2,900.6 L1353.2,900.6 L1354.2,900.6 L1355.2,900.6 L1356.2,900.6 L1357.2,900.6 L1358.2,900.6 L1359.2,900.6 L1360.2,900.6 L1361.2,900.6 L1362.2,900.6 L1363.2,900.6 L1364.2,900.6 L1365.2,900.6 L1366.2,900.6 L1367.2,900.5 L1368.2,900.5 L1369.2,900.5 L1370.2,900.5 L1371.2,900.5 L1372.2,900.5 L1373.2,900.5 L1374.2,900.5 L1375.2,900.4 L1376.2,900.3 L1377.2,900.1 L1378.2,899.9 L1379.2,899.7 L1380.2,899.5 L1381.2,899.3 L1382.2,899.2 L1383.2,899.1 L1384.2,899.0 L1385.2,899.0 L1386.2,899.0 L1387.2,899.0 L1388.2,899.0 L1389.2,899.0 L1390.2,899.0 L1391.2,899.0 L1392.2,899.0 L1393.2,899.0 L1394.2,899.0 L1395.2,899.0 L1396.2,899.0 L1397.2,899.0 L1398.2,899.0 L1399.2,899.0 L1400.2,899.0 L1401.2,899.0 L1402.2,899.0 L1402.5,899.0" fill="none" stroke="#e1303a" stroke-width="3.4" stroke-linejoin="round" stroke-linecap="round"/>
<rect x="213.9" y="677.8" width="1256.7" height="254.6" fill="none" stroke="#000" stroke-width="2.8"/>
<line x1="213.9" y1="932.4" x2="213.9" y2="949.4" stroke="#000" stroke-width="2.4"/>
<text x="213.9" y="988.5" font-size="37" text-anchor="middle">0.5</text>
<line x1="292.4" y1="932.4" x2="292.4" y2="940.9" stroke="#000" stroke-width="2.4"/>
<line x1="371.0" y1="932.4" x2="371.0" y2="949.4" stroke="#000" stroke-width="2.4"/>
<text x="371.0" y="988.5" font-size="37" text-anchor="middle">0.6</text>
<line x1="449.5" y1="932.4" x2="449.5" y2="940.9" stroke="#000" stroke-width="2.4"/>
<line x1="528.1" y1="932.4" x2="528.1" y2="949.4" stroke="#000" stroke-width="2.4"/>
<text x="528.1" y="988.5" font-size="37" text-anchor="middle">0.7</text>
<line x1="606.6" y1="932.4" x2="606.6" y2="940.9" stroke="#000" stroke-width="2.4"/>
<line x1="685.2" y1="932.4" x2="685.2" y2="949.4" stroke="#000" stroke-width="2.4"/>
<text x="685.2" y="988.5" font-size="37" text-anchor="middle">0.8</text>
<line x1="763.7" y1="932.4" x2="763.7" y2="940.9" stroke="#000" stroke-width="2.4"/>
<line x1="842.2" y1="932.4" x2="842.2" y2="949.4" stroke="#000" stroke-width="2.4"/>
<text x="842.2" y="988.5" font-size="37" text-anchor="middle">0.9</text>
<line x1="920.8" y1="932.4" x2="920.8" y2="940.9" stroke="#000" stroke-width="2.4"/>
<line x1="999.3" y1="932.4" x2="999.3" y2="949.4" stroke="#000" stroke-width="2.4"/>
<text x="999.3" y="988.5" font-size="37" text-anchor="middle">1.0</text>
<line x1="1077.9" y1="932.4" x2="1077.9" y2="940.9" stroke="#000" stroke-width="2.4"/>
<line x1="1156.4" y1="932.4" x2="1156.4" y2="949.4" stroke="#000" stroke-width="2.4"/>
<text x="1156.4" y="988.5" font-size="37" text-anchor="middle">1.1</text>
<line x1="1235.0" y1="932.4" x2="1235.0" y2="940.9" stroke="#000" stroke-width="2.4"/>
<line x1="1313.5" y1="932.4" x2="1313.5" y2="949.4" stroke="#000" stroke-width="2.4"/>
<text x="1313.5" y="988.5" font-size="37" text-anchor="middle">1.2</text>
<line x1="1392.1" y1="932.4" x2="1392.1" y2="940.9" stroke="#000" stroke-width="2.4"/>
<line x1="1470.6" y1="932.4" x2="1470.6" y2="949.4" stroke="#000" stroke-width="2.4"/>
<text x="1470.6" y="988.5" font-size="37" text-anchor="middle">1.3</text>
<line x1="196.9" y1="917.8" x2="213.9" y2="917.8" stroke="#000" stroke-width="2.4"/>
<text transform="translate(183.3,932.1) scale(1,1.05)" font-size="41" text-anchor="end">0</text>
<line x1="196.9" y1="859.2" x2="213.9" y2="859.2" stroke="#000" stroke-width="2.4"/>
<text transform="translate(183.3,875.1) scale(1,1.05)" font-size="41" text-anchor="end">10000</text>
<line x1="196.9" y1="800.5" x2="213.9" y2="800.5" stroke="#000" stroke-width="2.4"/>
<text transform="translate(183.3,816.7) scale(1,1.05)" font-size="41" text-anchor="end">20000</text>
<line x1="196.9" y1="741.9" x2="213.9" y2="741.9" stroke="#000" stroke-width="2.4"/>
<text transform="translate(183.3,757.8) scale(1,1.05)" font-size="41" text-anchor="end">30000</text>
<line x1="196.9" y1="683.3" x2="213.9" y2="683.3" stroke="#000" stroke-width="2.4"/>
<text transform="translate(183.3,699.5) scale(1,1.05)" font-size="41" text-anchor="end">40000</text>
<line x1="204.9" y1="888.5" x2="213.9" y2="888.5" stroke="#000" stroke-width="2.4"/>
<line x1="204.9" y1="829.9" x2="213.9" y2="829.9" stroke="#000" stroke-width="2.4"/>
<line x1="204.9" y1="771.2" x2="213.9" y2="771.2" stroke="#000" stroke-width="2.4"/>
<line x1="204.9" y1="712.6" x2="213.9" y2="712.6" stroke="#000" stroke-width="2.4"/>
<rect x="1188.5" y="694.1" width="267.2" height="129.4" fill="#fff" stroke="#222" stroke-width="1.4"/>
<line x1="1192.8" y1="728.3" x2="1306.0" y2="728.3" stroke="#404040" stroke-width="3.6"/>
<line x1="1192.8" y1="789.2" x2="1306.0" y2="789.2" stroke="#e1303a" stroke-width="3.6"/>
<text transform="translate(1317.0,745.1) scale(1,1.045)" font-size="48.5">Core 1</text>
<text transform="translate(1317.0,805.0) scale(1,1.045)" font-size="48.5">Core 2</text>
<line x1="1030.5" y1="13.2" x2="1030.5" y2="266.3" stroke="#ee1c25" stroke-width="1.3"/>
<line x1="960.2" y1="108.8" x2="1019.0" y2="108.8" stroke="#ee1c25" stroke-width="1.6"/><polygon points="949.2,108.8 961.2,103.0 961.2,114.6" fill="#ee1c25"/><polygon points="1030.0,108.8 1018.0,103.0 1018.0,114.6" fill="#ee1c25"/>
<text x="944.5" y="202.6" font-size="36.2">Δλ=64 nm</text>
<line x1="701" y1="677.8" x2="701" y2="932.4" stroke="#000" stroke-width="1.4"/>
<line x1="712.5" y1="792.6" x2="783.3" y2="792.6" stroke="#000" stroke-width="1.6"/><polygon points="701.5,792.6 713.5,786.8 713.5,798.4" fill="#000"/><polygon points="794.3,792.6 782.3,786.8 782.3,798.4" fill="#000"/>
<rect x="711" y="824.3" width="97" height="31" fill="#fff"/>
<text x="712.3" y="849.7" font-size="36.2">Δλ=83 nm</text>
<text transform="translate(43.5,593.5) rotate(-90)" font-size="53.2">Loss[dB/m]</text>
<text transform="translate(0,1057.8) scale(0.92,1)" x="708.6 761.6 786.8 816.5 841.0 857.1 881.3 913.4 944.0 959.8 986.8 1007.3 1033.4 1078.8" y="0" font-size="53.5">Wavelength[um]</text>
</svg>
</body></html>
